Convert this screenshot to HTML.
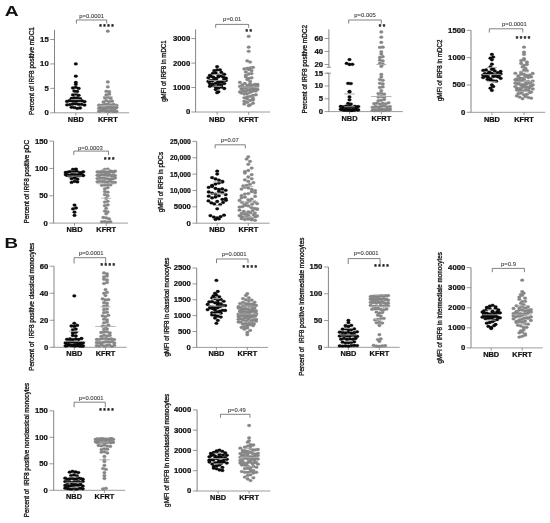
<!DOCTYPE html>
<html lang="en">
<head>
<meta charset="utf-8">
<title>IRF8 expression in dendritic cells and monocytes</title>
<style>
html,body{margin:0;padding:0;background:#fff;}
body{width:550px;height:523px;overflow:hidden;}
svg{display:block;font-family:"Liberation Sans",Arial,Helvetica,sans-serif;}
</style>
</head>
<body>
<svg width="550" height="523" viewBox="0 0 550 523">
<rect width="550" height="523" fill="#fff"/>
<!-- panel 1 -->
<path d="M54.5 29.9V112.8" stroke="#6e6e6e" stroke-width="0.85" fill="none"/>
<path d="M54.1 112.8H129.2" stroke="#9c9c9c" stroke-width="1.0" fill="none"/>
<path d="M50.2 112.80H54.5" stroke="#6e6e6e" stroke-width="0.7"/>
<text transform="translate(48.70,115.25) scale(1.1227536231884057,1)" font-size="6.9" font-weight="bold" text-anchor="end" fill="#111" stroke="#111" stroke-width="0.22">0</text>
<path d="M50.2 88.37H54.5" stroke="#6e6e6e" stroke-width="0.7"/>
<text transform="translate(48.70,90.82) scale(1.1227536231884057,1)" font-size="6.9" font-weight="bold" text-anchor="end" fill="#111" stroke="#111" stroke-width="0.22">5</text>
<path d="M50.2 63.93H54.5" stroke="#6e6e6e" stroke-width="0.7"/>
<text transform="translate(48.70,66.38) scale(1.1227536231884057,1)" font-size="6.9" font-weight="bold" text-anchor="end" fill="#111" stroke="#111" stroke-width="0.22">10</text>
<path d="M50.2 39.50H54.5" stroke="#6e6e6e" stroke-width="0.7"/>
<text transform="translate(48.70,41.95) scale(1.1227536231884057,1)" font-size="6.9" font-weight="bold" text-anchor="end" fill="#111" stroke="#111" stroke-width="0.22">15</text>
<path d="M75.8 112.8V115.5" stroke="#6e6e6e" stroke-width="0.7"/>
<text transform="translate(75.80,122.25) scale(1.1578125,1)" font-size="6.4" font-weight="bold" text-anchor="middle" fill="#111" stroke="#111" stroke-width="0.2">NBD</text>
<path d="M107.8 112.8V115.5" stroke="#6e6e6e" stroke-width="0.7"/>
<text transform="translate(107.80,122.25) scale(1.1578125,1)" font-size="6.4" font-weight="bold" text-anchor="middle" fill="#111" stroke="#111" stroke-width="0.2">KFRT</text>
<text transform="translate(33.60,115.10) rotate(-90)" font-size="6.4" textLength="88.0" lengthAdjust="spacingAndGlyphs" fill="#111" stroke="#111" stroke-width="0.3">Percent of IRF8 positive mDC1</text>
<path d="M76.4 23.6V20.0H106.7V23.6" stroke="#4d4d4d" stroke-width="0.7" fill="none"/>
<text transform="translate(91.70,17.75) scale(1.179,1)" font-size="5.0" font-weight="normal" text-anchor="middle" fill="#3c3c3c" stroke="#3c3c3c" stroke-width="0.08">p=0.0001</text>
<text x="107.35" y="29.15" font-size="6.4" font-weight="bold" letter-spacing="1.51" text-anchor="middle" fill="#1c1c1c" stroke="#1c1c1c" stroke-width="0.25">****</text>
<g fill="#0a0a0a" stroke="#0a0a0a" stroke-opacity="0.38" stroke-width="0.9"><ellipse cx="77.2" cy="108.4" rx="1.8" ry="1.38"/><ellipse cx="74.3" cy="107.6" rx="1.8" ry="1.38"/><ellipse cx="80.1" cy="108.0" rx="1.8" ry="1.38"/><ellipse cx="71.5" cy="107.3" rx="1.8" ry="1.38"/><ellipse cx="75.8" cy="103.8" rx="1.8" ry="1.38"/><ellipse cx="78.7" cy="104.4" rx="1.8" ry="1.38"/><ellipse cx="72.9" cy="104.0" rx="1.8" ry="1.38"/><ellipse cx="81.6" cy="104.3" rx="1.8" ry="1.38"/><ellipse cx="70.0" cy="104.6" rx="1.8" ry="1.38"/><ellipse cx="84.5" cy="105.1" rx="1.8" ry="1.38"/><ellipse cx="67.1" cy="104.9" rx="1.8" ry="1.38"/><ellipse cx="77.1" cy="101.1" rx="1.8" ry="1.38"/><ellipse cx="74.5" cy="101.0" rx="1.8" ry="1.38"/><ellipse cx="79.6" cy="100.6" rx="1.8" ry="1.38"/><ellipse cx="72.0" cy="100.8" rx="1.8" ry="1.38"/><ellipse cx="82.1" cy="100.9" rx="1.8" ry="1.38"/><ellipse cx="69.5" cy="100.7" rx="1.8" ry="1.38"/><ellipse cx="84.6" cy="101.7" rx="1.8" ry="1.38"/><ellipse cx="67.0" cy="101.4" rx="1.8" ry="1.38"/><ellipse cx="77.2" cy="97.8" rx="1.8" ry="1.38"/><ellipse cx="74.3" cy="98.0" rx="1.8" ry="1.38"/><ellipse cx="80.1" cy="98.7" rx="1.8" ry="1.38"/><ellipse cx="71.5" cy="98.5" rx="1.8" ry="1.38"/><ellipse cx="75.8" cy="94.0" rx="1.8" ry="1.38"/><ellipse cx="78.7" cy="95.3" rx="1.8" ry="1.38"/><ellipse cx="72.9" cy="94.9" rx="1.8" ry="1.38"/><ellipse cx="77.2" cy="91.5" rx="1.8" ry="1.38"/><ellipse cx="74.3" cy="91.1" rx="1.8" ry="1.38"/><ellipse cx="75.8" cy="87.3" rx="1.8" ry="1.38"/><ellipse cx="78.7" cy="88.4" rx="1.8" ry="1.38"/><ellipse cx="72.9" cy="88.0" rx="1.8" ry="1.38"/><ellipse cx="75.8" cy="84.4" rx="1.8" ry="1.38"/><ellipse cx="75.8" cy="82.5" rx="1.8" ry="1.38"/><ellipse cx="75.8" cy="76.2" rx="1.8" ry="1.38"/><ellipse cx="75.8" cy="63.9" rx="1.8" ry="1.38"/></g>
<path d="M70.8 99.61H80.8M73.2 93.25H78.4" stroke="#a2a2a2" stroke-width="0.9" fill="none"/>
<g fill="#868686" stroke="#868686" stroke-opacity="0.38" stroke-width="0.9"><ellipse cx="108.3" cy="111.4" rx="1.8" ry="1.38"/><ellipse cx="107.3" cy="110.8" rx="1.8" ry="1.38"/><ellipse cx="109.4" cy="110.9" rx="1.8" ry="1.38"/><ellipse cx="106.2" cy="110.9" rx="1.8" ry="1.38"/><ellipse cx="110.4" cy="111.0" rx="1.8" ry="1.38"/><ellipse cx="105.2" cy="111.1" rx="1.8" ry="1.38"/><ellipse cx="111.4" cy="110.7" rx="1.8" ry="1.38"/><ellipse cx="104.2" cy="110.7" rx="1.8" ry="1.38"/><ellipse cx="112.5" cy="111.1" rx="1.8" ry="1.38"/><ellipse cx="103.1" cy="110.5" rx="1.8" ry="1.38"/><ellipse cx="113.5" cy="111.5" rx="1.8" ry="1.38"/><ellipse cx="102.1" cy="110.4" rx="1.8" ry="1.38"/><ellipse cx="114.5" cy="110.6" rx="1.8" ry="1.38"/><ellipse cx="101.1" cy="110.6" rx="1.8" ry="1.38"/><ellipse cx="115.6" cy="111.5" rx="1.8" ry="1.38"/><ellipse cx="100.0" cy="111.3" rx="1.8" ry="1.38"/><ellipse cx="116.6" cy="111.3" rx="1.8" ry="1.38"/><ellipse cx="99.0" cy="111.2" rx="1.8" ry="1.38"/><ellipse cx="108.3" cy="107.2" rx="1.8" ry="1.38"/><ellipse cx="107.3" cy="107.2" rx="1.8" ry="1.38"/><ellipse cx="109.2" cy="107.3" rx="1.8" ry="1.38"/><ellipse cx="106.4" cy="107.8" rx="1.8" ry="1.38"/><ellipse cx="110.1" cy="107.7" rx="1.8" ry="1.38"/><ellipse cx="105.5" cy="108.6" rx="1.8" ry="1.38"/><ellipse cx="111.0" cy="107.6" rx="1.8" ry="1.38"/><ellipse cx="104.6" cy="108.0" rx="1.8" ry="1.38"/><ellipse cx="112.0" cy="107.9" rx="1.8" ry="1.38"/><ellipse cx="103.6" cy="108.1" rx="1.8" ry="1.38"/><ellipse cx="112.9" cy="107.5" rx="1.8" ry="1.38"/><ellipse cx="102.7" cy="108.5" rx="1.8" ry="1.38"/><ellipse cx="113.8" cy="108.1" rx="1.8" ry="1.38"/><ellipse cx="101.8" cy="108.3" rx="1.8" ry="1.38"/><ellipse cx="114.7" cy="108.2" rx="1.8" ry="1.38"/><ellipse cx="100.9" cy="108.4" rx="1.8" ry="1.38"/><ellipse cx="115.7" cy="107.8" rx="1.8" ry="1.38"/><ellipse cx="99.9" cy="107.4" rx="1.8" ry="1.38"/><ellipse cx="116.6" cy="107.5" rx="1.8" ry="1.38"/><ellipse cx="99.0" cy="108.4" rx="1.8" ry="1.38"/><ellipse cx="107.8" cy="104.1" rx="1.8" ry="1.38"/><ellipse cx="110.7" cy="104.9" rx="1.8" ry="1.38"/><ellipse cx="104.9" cy="104.4" rx="1.8" ry="1.38"/><ellipse cx="113.6" cy="104.5" rx="1.8" ry="1.38"/><ellipse cx="102.0" cy="105.1" rx="1.8" ry="1.38"/><ellipse cx="116.5" cy="105.3" rx="1.8" ry="1.38"/><ellipse cx="99.1" cy="105.2" rx="1.8" ry="1.38"/><ellipse cx="109.2" cy="101.7" rx="1.8" ry="1.38"/><ellipse cx="106.3" cy="100.7" rx="1.8" ry="1.38"/><ellipse cx="112.1" cy="101.2" rx="1.8" ry="1.38"/><ellipse cx="103.5" cy="102.0" rx="1.8" ry="1.38"/><ellipse cx="107.8" cy="97.3" rx="1.8" ry="1.38"/><ellipse cx="110.7" cy="98.4" rx="1.8" ry="1.38"/><ellipse cx="104.9" cy="97.9" rx="1.8" ry="1.38"/><ellipse cx="109.2" cy="94.2" rx="1.8" ry="1.38"/><ellipse cx="106.3" cy="94.9" rx="1.8" ry="1.38"/><ellipse cx="109.2" cy="91.7" rx="1.8" ry="1.38"/><ellipse cx="106.3" cy="91.3" rx="1.8" ry="1.38"/><ellipse cx="107.8" cy="86.9" rx="1.8" ry="1.38"/><ellipse cx="107.8" cy="82.0" rx="1.8" ry="1.38"/><ellipse cx="107.8" cy="31.2" rx="1.8" ry="1.38"/></g>
<path d="M98.3 105.71H117.3M102.9 96.67H112.7" stroke="#adadad" stroke-width="0.9" fill="none"/>
<!-- panel 2 -->
<path d="M195.6 29.4V112.0" stroke="#6e6e6e" stroke-width="0.85" fill="none"/>
<path d="M195.2 112.0H270.2" stroke="#9c9c9c" stroke-width="1.0" fill="none"/>
<path d="M191.29999999999998 112.00H195.6" stroke="#6e6e6e" stroke-width="0.7"/>
<text transform="translate(190.20,114.45) scale(1.1227536231884057,1)" font-size="6.9" font-weight="bold" text-anchor="end" fill="#111" stroke="#111" stroke-width="0.22">0</text>
<path d="M191.29999999999998 87.53H195.6" stroke="#6e6e6e" stroke-width="0.7"/>
<text transform="translate(190.20,89.98) scale(1.1227536231884057,1)" font-size="6.9" font-weight="bold" text-anchor="end" fill="#111" stroke="#111" stroke-width="0.22">1000</text>
<path d="M191.29999999999998 63.07H195.6" stroke="#6e6e6e" stroke-width="0.7"/>
<text transform="translate(190.20,65.52) scale(1.1227536231884057,1)" font-size="6.9" font-weight="bold" text-anchor="end" fill="#111" stroke="#111" stroke-width="0.22">2000</text>
<path d="M191.29999999999998 38.60H195.6" stroke="#6e6e6e" stroke-width="0.7"/>
<text transform="translate(190.20,41.05) scale(1.1227536231884057,1)" font-size="6.9" font-weight="bold" text-anchor="end" fill="#111" stroke="#111" stroke-width="0.22">3000</text>
<path d="M217.1 112.0V114.7" stroke="#6e6e6e" stroke-width="0.7"/>
<text transform="translate(217.10,121.55) scale(1.1578125,1)" font-size="6.4" font-weight="bold" text-anchor="middle" fill="#111" stroke="#111" stroke-width="0.2">NBD</text>
<path d="M248.7 112.0V114.7" stroke="#6e6e6e" stroke-width="0.7"/>
<text transform="translate(248.70,121.55) scale(1.1578125,1)" font-size="6.4" font-weight="bold" text-anchor="middle" fill="#111" stroke="#111" stroke-width="0.2">KFRT</text>
<text transform="translate(165.50,101.80) rotate(-90)" font-size="6.4" textLength="61.5" lengthAdjust="spacingAndGlyphs" fill="#111" stroke="#111" stroke-width="0.3">gMFI of IRF8 in mDC1</text>
<path d="M215.7 27.8V24.4H248.7V27.8" stroke="#4d4d4d" stroke-width="0.7" fill="none"/>
<text transform="translate(232.20,20.85) scale(1.179,1)" font-size="5.0" font-weight="normal" text-anchor="middle" fill="#3c3c3c" stroke="#3c3c3c" stroke-width="0.08">p=0.01</text>
<text x="249.55" y="33.65" font-size="6.4" font-weight="bold" letter-spacing="1.51" text-anchor="middle" fill="#1c1c1c" stroke="#1c1c1c" stroke-width="0.25">**</text>
<g fill="#0a0a0a" stroke="#0a0a0a" stroke-opacity="0.38" stroke-width="0.9"><ellipse cx="217.1" cy="92.7" rx="1.8" ry="1.38"/><ellipse cx="218.5" cy="91.8" rx="1.8" ry="1.38"/><ellipse cx="215.7" cy="89.5" rx="1.8" ry="1.38"/><ellipse cx="218.5" cy="88.1" rx="1.8" ry="1.38"/><ellipse cx="215.7" cy="86.9" rx="1.8" ry="1.38"/><ellipse cx="221.4" cy="87.1" rx="1.8" ry="1.38"/><ellipse cx="212.8" cy="85.7" rx="1.8" ry="1.38"/><ellipse cx="224.3" cy="88.5" rx="1.8" ry="1.38"/><ellipse cx="209.8" cy="86.3" rx="1.8" ry="1.38"/><ellipse cx="218.5" cy="84.8" rx="1.8" ry="1.38"/><ellipse cx="215.7" cy="83.3" rx="1.8" ry="1.38"/><ellipse cx="221.4" cy="84.8" rx="1.8" ry="1.38"/><ellipse cx="212.8" cy="84.1" rx="1.8" ry="1.38"/><ellipse cx="224.3" cy="83.6" rx="1.8" ry="1.38"/><ellipse cx="209.8" cy="83.7" rx="1.8" ry="1.38"/><ellipse cx="218.1" cy="82.2" rx="1.8" ry="1.38"/><ellipse cx="216.1" cy="79.7" rx="1.8" ry="1.38"/><ellipse cx="220.0" cy="82.2" rx="1.8" ry="1.38"/><ellipse cx="214.2" cy="79.5" rx="1.8" ry="1.38"/><ellipse cx="222.0" cy="81.8" rx="1.8" ry="1.38"/><ellipse cx="212.2" cy="80.9" rx="1.8" ry="1.38"/><ellipse cx="223.9" cy="80.0" rx="1.8" ry="1.38"/><ellipse cx="210.3" cy="80.7" rx="1.8" ry="1.38"/><ellipse cx="225.9" cy="80.5" rx="1.8" ry="1.38"/><ellipse cx="208.3" cy="81.5" rx="1.8" ry="1.38"/><ellipse cx="218.4" cy="76.9" rx="1.8" ry="1.38"/><ellipse cx="215.8" cy="78.5" rx="1.8" ry="1.38"/><ellipse cx="220.9" cy="75.9" rx="1.8" ry="1.38"/><ellipse cx="213.3" cy="77.2" rx="1.8" ry="1.38"/><ellipse cx="223.4" cy="77.3" rx="1.8" ry="1.38"/><ellipse cx="210.8" cy="76.4" rx="1.8" ry="1.38"/><ellipse cx="225.9" cy="78.2" rx="1.8" ry="1.38"/><ellipse cx="208.3" cy="77.8" rx="1.8" ry="1.38"/><ellipse cx="218.5" cy="75.2" rx="1.8" ry="1.38"/><ellipse cx="215.7" cy="73.0" rx="1.8" ry="1.38"/><ellipse cx="221.4" cy="72.4" rx="1.8" ry="1.38"/><ellipse cx="212.8" cy="73.5" rx="1.8" ry="1.38"/><ellipse cx="224.3" cy="74.3" rx="1.8" ry="1.38"/><ellipse cx="209.8" cy="75.3" rx="1.8" ry="1.38"/><ellipse cx="217.1" cy="69.9" rx="1.8" ry="1.38"/><ellipse cx="220.0" cy="69.9" rx="1.8" ry="1.38"/><ellipse cx="214.2" cy="70.7" rx="1.8" ry="1.38"/><ellipse cx="217.1" cy="66.7" rx="1.8" ry="1.38"/></g>
<path d="M208.1 80.44H226.1M212.4 86.31H221.8M212.4 74.57H221.8" stroke="#a2a2a2" stroke-width="0.9" fill="none"/>
<g fill="#868686" stroke="#868686" stroke-opacity="0.38" stroke-width="0.9"><ellipse cx="248.7" cy="105.7" rx="1.8" ry="1.38"/><ellipse cx="250.1" cy="104.9" rx="1.8" ry="1.38"/><ellipse cx="247.2" cy="102.4" rx="1.8" ry="1.38"/><ellipse cx="253.0" cy="103.3" rx="1.8" ry="1.38"/><ellipse cx="244.3" cy="104.0" rx="1.8" ry="1.38"/><ellipse cx="250.1" cy="100.5" rx="1.8" ry="1.38"/><ellipse cx="247.2" cy="99.1" rx="1.8" ry="1.38"/><ellipse cx="253.0" cy="100.0" rx="1.8" ry="1.38"/><ellipse cx="244.3" cy="101.3" rx="1.8" ry="1.38"/><ellipse cx="250.1" cy="96.4" rx="1.8" ry="1.38"/><ellipse cx="247.2" cy="96.9" rx="1.8" ry="1.38"/><ellipse cx="253.0" cy="98.5" rx="1.8" ry="1.38"/><ellipse cx="244.3" cy="97.8" rx="1.8" ry="1.38"/><ellipse cx="250.1" cy="92.4" rx="1.8" ry="1.38"/><ellipse cx="247.2" cy="93.7" rx="1.8" ry="1.38"/><ellipse cx="253.0" cy="95.5" rx="1.8" ry="1.38"/><ellipse cx="244.3" cy="94.1" rx="1.8" ry="1.38"/><ellipse cx="255.9" cy="94.8" rx="1.8" ry="1.38"/><ellipse cx="241.4" cy="93.0" rx="1.8" ry="1.38"/><ellipse cx="248.7" cy="89.9" rx="1.8" ry="1.38"/><ellipse cx="250.5" cy="89.7" rx="1.8" ry="1.38"/><ellipse cx="246.9" cy="90.5" rx="1.8" ry="1.38"/><ellipse cx="252.2" cy="91.4" rx="1.8" ry="1.38"/><ellipse cx="245.2" cy="91.6" rx="1.8" ry="1.38"/><ellipse cx="254.0" cy="90.2" rx="1.8" ry="1.38"/><ellipse cx="243.4" cy="90.9" rx="1.8" ry="1.38"/><ellipse cx="255.7" cy="91.1" rx="1.8" ry="1.38"/><ellipse cx="241.7" cy="89.2" rx="1.8" ry="1.38"/><ellipse cx="257.5" cy="89.5" rx="1.8" ry="1.38"/><ellipse cx="239.9" cy="92.0" rx="1.8" ry="1.38"/><ellipse cx="249.5" cy="86.6" rx="1.8" ry="1.38"/><ellipse cx="247.9" cy="86.8" rx="1.8" ry="1.38"/><ellipse cx="251.1" cy="87.1" rx="1.8" ry="1.38"/><ellipse cx="246.3" cy="87.6" rx="1.8" ry="1.38"/><ellipse cx="252.7" cy="88.5" rx="1.8" ry="1.38"/><ellipse cx="244.7" cy="88.0" rx="1.8" ry="1.38"/><ellipse cx="254.3" cy="88.2" rx="1.8" ry="1.38"/><ellipse cx="243.1" cy="87.5" rx="1.8" ry="1.38"/><ellipse cx="255.9" cy="85.7" rx="1.8" ry="1.38"/><ellipse cx="241.5" cy="88.8" rx="1.8" ry="1.38"/><ellipse cx="257.5" cy="86.0" rx="1.8" ry="1.38"/><ellipse cx="239.9" cy="86.4" rx="1.8" ry="1.38"/><ellipse cx="250.0" cy="83.9" rx="1.8" ry="1.38"/><ellipse cx="247.4" cy="85.5" rx="1.8" ry="1.38"/><ellipse cx="252.5" cy="85.2" rx="1.8" ry="1.38"/><ellipse cx="244.9" cy="83.5" rx="1.8" ry="1.38"/><ellipse cx="255.0" cy="84.4" rx="1.8" ry="1.38"/><ellipse cx="242.4" cy="84.9" rx="1.8" ry="1.38"/><ellipse cx="257.5" cy="84.5" rx="1.8" ry="1.38"/><ellipse cx="239.9" cy="82.4" rx="1.8" ry="1.38"/><ellipse cx="250.1" cy="81.4" rx="1.8" ry="1.38"/><ellipse cx="247.2" cy="79.6" rx="1.8" ry="1.38"/><ellipse cx="248.7" cy="78.5" rx="1.8" ry="1.38"/><ellipse cx="251.6" cy="77.8" rx="1.8" ry="1.38"/><ellipse cx="245.8" cy="76.9" rx="1.8" ry="1.38"/><ellipse cx="248.7" cy="74.0" rx="1.8" ry="1.38"/><ellipse cx="251.6" cy="73.6" rx="1.8" ry="1.38"/><ellipse cx="245.8" cy="75.3" rx="1.8" ry="1.38"/><ellipse cx="248.7" cy="69.6" rx="1.8" ry="1.38"/><ellipse cx="251.6" cy="70.7" rx="1.8" ry="1.38"/><ellipse cx="245.8" cy="72.0" rx="1.8" ry="1.38"/><ellipse cx="250.1" cy="68.0" rx="1.8" ry="1.38"/><ellipse cx="247.2" cy="68.3" rx="1.8" ry="1.38"/><ellipse cx="253.0" cy="67.4" rx="1.8" ry="1.38"/><ellipse cx="244.3" cy="69.0" rx="1.8" ry="1.38"/><ellipse cx="250.1" cy="62.1" rx="1.8" ry="1.38"/><ellipse cx="247.2" cy="60.9" rx="1.8" ry="1.38"/><ellipse cx="248.7" cy="51.3" rx="1.8" ry="1.38"/><ellipse cx="248.7" cy="47.2" rx="1.8" ry="1.38"/><ellipse cx="248.7" cy="36.4" rx="1.8" ry="1.38"/></g>
<path d="M238.4 87.17H259.0" stroke="#adadad" stroke-width="0.9" fill="none"/>
<!-- panel 3 -->
<path d="M328.9 29.3V67.3M328.9 73.2V111.6" stroke="#6e6e6e" stroke-width="0.85" fill="none"/>
<path d="M326.7 67.3H331.09999999999997M326.7 73.2H331.09999999999997" stroke="#6e6e6e" stroke-width="0.7" fill="none"/>
<path d="M328.5 111.6H402.9" stroke="#9c9c9c" stroke-width="1.0" fill="none"/>
<path d="M324.59999999999997 111.60H328.9" stroke="#6e6e6e" stroke-width="0.7"/>
<text transform="translate(323.00,114.05) scale(1.1227536231884057,1)" font-size="6.9" font-weight="bold" text-anchor="end" fill="#111" stroke="#111" stroke-width="0.22">0</text>
<path d="M324.59999999999997 98.80H328.9" stroke="#6e6e6e" stroke-width="0.7"/>
<text transform="translate(323.00,101.25) scale(1.1227536231884057,1)" font-size="6.9" font-weight="bold" text-anchor="end" fill="#111" stroke="#111" stroke-width="0.22">5</text>
<path d="M324.59999999999997 86.00H328.9" stroke="#6e6e6e" stroke-width="0.7"/>
<text transform="translate(323.00,88.45) scale(1.1227536231884057,1)" font-size="6.9" font-weight="bold" text-anchor="end" fill="#111" stroke="#111" stroke-width="0.22">10</text>
<path d="M324.59999999999997 73.20H328.9" stroke="#6e6e6e" stroke-width="0.7"/>
<text transform="translate(323.00,75.65) scale(1.1227536231884057,1)" font-size="6.9" font-weight="bold" text-anchor="end" fill="#111" stroke="#111" stroke-width="0.22">15</text>
<path d="M324.59999999999997 64.50H328.9" stroke="#6e6e6e" stroke-width="0.7"/>
<text transform="translate(323.00,66.95) scale(1.1227536231884057,1)" font-size="6.9" font-weight="bold" text-anchor="end" fill="#111" stroke="#111" stroke-width="0.22">20</text>
<path d="M324.59999999999997 51.50H328.9" stroke="#6e6e6e" stroke-width="0.7"/>
<text transform="translate(323.00,53.95) scale(1.1227536231884057,1)" font-size="6.9" font-weight="bold" text-anchor="end" fill="#111" stroke="#111" stroke-width="0.22">40</text>
<path d="M324.59999999999997 38.50H328.9" stroke="#6e6e6e" stroke-width="0.7"/>
<text transform="translate(323.00,40.95) scale(1.1227536231884057,1)" font-size="6.9" font-weight="bold" text-anchor="end" fill="#111" stroke="#111" stroke-width="0.22">60</text>
<path d="M349.5 111.6V114.3" stroke="#6e6e6e" stroke-width="0.7"/>
<text transform="translate(349.50,121.05) scale(1.1578125,1)" font-size="6.4" font-weight="bold" text-anchor="middle" fill="#111" stroke="#111" stroke-width="0.2">NBD</text>
<path d="M381.3 111.6V114.3" stroke="#6e6e6e" stroke-width="0.7"/>
<text transform="translate(381.30,121.05) scale(1.1578125,1)" font-size="6.4" font-weight="bold" text-anchor="middle" fill="#111" stroke="#111" stroke-width="0.2">KFRT</text>
<text transform="translate(307.20,113.50) rotate(-90)" font-size="6.4" textLength="88.6" lengthAdjust="spacingAndGlyphs" fill="#111" stroke="#111" stroke-width="0.3">Percent of IRF8 positive mDC2</text>
<path d="M348.7 23.6V20.0H381.3V23.6" stroke="#4d4d4d" stroke-width="0.7" fill="none"/>
<text transform="translate(365.00,17.15) scale(1.179,1)" font-size="5.0" font-weight="normal" text-anchor="middle" fill="#3c3c3c" stroke="#3c3c3c" stroke-width="0.08">p=0.005</text>
<text x="382.75" y="28.55" font-size="6.4" font-weight="bold" letter-spacing="1.51" text-anchor="middle" fill="#1c1c1c" stroke="#1c1c1c" stroke-width="0.25">**</text>
<g fill="#0a0a0a" stroke="#0a0a0a" stroke-opacity="0.38" stroke-width="0.9"><ellipse cx="349.5" cy="109.7" rx="1.8" ry="1.38"/><ellipse cx="350.6" cy="110.4" rx="1.8" ry="1.38"/><ellipse cx="348.4" cy="109.9" rx="1.8" ry="1.38"/><ellipse cx="351.7" cy="110.4" rx="1.8" ry="1.38"/><ellipse cx="347.3" cy="110.3" rx="1.8" ry="1.38"/><ellipse cx="352.8" cy="110.0" rx="1.8" ry="1.38"/><ellipse cx="346.2" cy="109.4" rx="1.8" ry="1.38"/><ellipse cx="353.9" cy="110.2" rx="1.8" ry="1.38"/><ellipse cx="345.1" cy="110.1" rx="1.8" ry="1.38"/><ellipse cx="355.0" cy="109.8" rx="1.8" ry="1.38"/><ellipse cx="344.0" cy="110.2" rx="1.8" ry="1.38"/><ellipse cx="356.1" cy="109.5" rx="1.8" ry="1.38"/><ellipse cx="342.9" cy="109.6" rx="1.8" ry="1.38"/><ellipse cx="357.2" cy="109.8" rx="1.8" ry="1.38"/><ellipse cx="341.8" cy="109.6" rx="1.8" ry="1.38"/><ellipse cx="358.3" cy="110.0" rx="1.8" ry="1.38"/><ellipse cx="340.7" cy="109.3" rx="1.8" ry="1.38"/><ellipse cx="349.5" cy="106.4" rx="1.8" ry="1.38"/><ellipse cx="351.3" cy="107.2" rx="1.8" ry="1.38"/><ellipse cx="347.7" cy="107.0" rx="1.8" ry="1.38"/><ellipse cx="353.0" cy="107.3" rx="1.8" ry="1.38"/><ellipse cx="346.0" cy="106.2" rx="1.8" ry="1.38"/><ellipse cx="354.8" cy="106.3" rx="1.8" ry="1.38"/><ellipse cx="344.2" cy="107.1" rx="1.8" ry="1.38"/><ellipse cx="356.5" cy="106.9" rx="1.8" ry="1.38"/><ellipse cx="342.5" cy="106.8" rx="1.8" ry="1.38"/><ellipse cx="358.3" cy="106.6" rx="1.8" ry="1.38"/><ellipse cx="340.7" cy="106.5" rx="1.8" ry="1.38"/><ellipse cx="350.9" cy="104.1" rx="1.8" ry="1.38"/><ellipse cx="348.1" cy="103.5" rx="1.8" ry="1.38"/><ellipse cx="349.5" cy="99.8" rx="1.8" ry="1.38"/><ellipse cx="349.5" cy="97.0" rx="1.8" ry="1.38"/><ellipse cx="349.5" cy="92.1" rx="1.8" ry="1.38"/><ellipse cx="349.5" cy="91.4" rx="1.8" ry="1.38"/><ellipse cx="350.9" cy="83.6" rx="1.8" ry="1.38"/><ellipse cx="348.1" cy="83.4" rx="1.8" ry="1.38"/><ellipse cx="349.5" cy="64.5" rx="1.8" ry="1.38"/><ellipse cx="352.4" cy="64.3" rx="1.8" ry="1.38"/><ellipse cx="346.6" cy="63.4" rx="1.8" ry="1.38"/><ellipse cx="349.5" cy="59.6" rx="1.8" ry="1.38"/></g>
<path d="M344.2 106.74H354.8M344.2 93.94H354.8" stroke="#a2a2a2" stroke-width="0.9" fill="none"/>
<g fill="#868686" stroke="#868686" stroke-opacity="0.38" stroke-width="0.9"><ellipse cx="381.7" cy="109.4" rx="1.8" ry="1.38"/><ellipse cx="380.9" cy="109.3" rx="1.8" ry="1.38"/><ellipse cx="382.6" cy="109.6" rx="1.8" ry="1.38"/><ellipse cx="380.0" cy="109.6" rx="1.8" ry="1.38"/><ellipse cx="383.4" cy="110.4" rx="1.8" ry="1.38"/><ellipse cx="379.2" cy="110.5" rx="1.8" ry="1.38"/><ellipse cx="384.2" cy="110.2" rx="1.8" ry="1.38"/><ellipse cx="378.4" cy="109.9" rx="1.8" ry="1.38"/><ellipse cx="385.1" cy="110.0" rx="1.8" ry="1.38"/><ellipse cx="377.5" cy="109.9" rx="1.8" ry="1.38"/><ellipse cx="385.9" cy="110.0" rx="1.8" ry="1.38"/><ellipse cx="376.7" cy="110.4" rx="1.8" ry="1.38"/><ellipse cx="386.7" cy="109.7" rx="1.8" ry="1.38"/><ellipse cx="375.9" cy="110.3" rx="1.8" ry="1.38"/><ellipse cx="387.6" cy="109.4" rx="1.8" ry="1.38"/><ellipse cx="375.0" cy="109.7" rx="1.8" ry="1.38"/><ellipse cx="388.4" cy="110.1" rx="1.8" ry="1.38"/><ellipse cx="374.2" cy="110.6" rx="1.8" ry="1.38"/><ellipse cx="389.3" cy="109.8" rx="1.8" ry="1.38"/><ellipse cx="373.3" cy="110.2" rx="1.8" ry="1.38"/><ellipse cx="390.1" cy="109.5" rx="1.8" ry="1.38"/><ellipse cx="372.5" cy="110.3" rx="1.8" ry="1.38"/><ellipse cx="381.3" cy="106.3" rx="1.8" ry="1.38"/><ellipse cx="384.2" cy="106.1" rx="1.8" ry="1.38"/><ellipse cx="378.4" cy="107.2" rx="1.8" ry="1.38"/><ellipse cx="387.1" cy="107.0" rx="1.8" ry="1.38"/><ellipse cx="375.5" cy="106.5" rx="1.8" ry="1.38"/><ellipse cx="390.0" cy="106.7" rx="1.8" ry="1.38"/><ellipse cx="372.6" cy="107.3" rx="1.8" ry="1.38"/><ellipse cx="382.8" cy="103.5" rx="1.8" ry="1.38"/><ellipse cx="379.9" cy="104.1" rx="1.8" ry="1.38"/><ellipse cx="385.7" cy="103.8" rx="1.8" ry="1.38"/><ellipse cx="376.9" cy="103.2" rx="1.8" ry="1.38"/><ellipse cx="388.6" cy="102.8" rx="1.8" ry="1.38"/><ellipse cx="374.1" cy="103.7" rx="1.8" ry="1.38"/><ellipse cx="381.3" cy="100.3" rx="1.8" ry="1.38"/><ellipse cx="384.2" cy="99.6" rx="1.8" ry="1.38"/><ellipse cx="378.4" cy="100.7" rx="1.8" ry="1.38"/><ellipse cx="381.3" cy="96.6" rx="1.8" ry="1.38"/><ellipse cx="384.2" cy="97.3" rx="1.8" ry="1.38"/><ellipse cx="378.4" cy="97.0" rx="1.8" ry="1.38"/><ellipse cx="381.3" cy="93.3" rx="1.8" ry="1.38"/><ellipse cx="384.2" cy="94.2" rx="1.8" ry="1.38"/><ellipse cx="378.4" cy="93.6" rx="1.8" ry="1.38"/><ellipse cx="381.3" cy="90.7" rx="1.8" ry="1.38"/><ellipse cx="382.8" cy="86.9" rx="1.8" ry="1.38"/><ellipse cx="379.9" cy="87.5" rx="1.8" ry="1.38"/><ellipse cx="382.8" cy="84.0" rx="1.8" ry="1.38"/><ellipse cx="379.9" cy="83.3" rx="1.8" ry="1.38"/><ellipse cx="382.8" cy="80.3" rx="1.8" ry="1.38"/><ellipse cx="379.9" cy="79.6" rx="1.8" ry="1.38"/><ellipse cx="381.3" cy="76.9" rx="1.8" ry="1.38"/><ellipse cx="381.3" cy="74.4" rx="1.8" ry="1.38"/><ellipse cx="381.3" cy="66.4" rx="1.8" ry="1.38"/><ellipse cx="382.8" cy="64.2" rx="1.8" ry="1.38"/><ellipse cx="379.9" cy="63.5" rx="1.8" ry="1.38"/><ellipse cx="382.8" cy="61.0" rx="1.8" ry="1.38"/><ellipse cx="379.9" cy="60.2" rx="1.8" ry="1.38"/><ellipse cx="382.8" cy="56.7" rx="1.8" ry="1.38"/><ellipse cx="379.9" cy="57.5" rx="1.8" ry="1.38"/><ellipse cx="381.3" cy="54.1" rx="1.8" ry="1.38"/><ellipse cx="381.3" cy="51.8" rx="1.8" ry="1.38"/><ellipse cx="382.8" cy="47.2" rx="1.8" ry="1.38"/><ellipse cx="379.9" cy="47.4" rx="1.8" ry="1.38"/><ellipse cx="381.3" cy="42.4" rx="1.8" ry="1.38"/><ellipse cx="381.3" cy="37.2" rx="1.8" ry="1.38"/><ellipse cx="381.3" cy="32.0" rx="1.8" ry="1.38"/></g>
<path d="M371.1 96.50H391.5M376.3 64.50H386.3" stroke="#adadad" stroke-width="0.9" fill="none"/>
<!-- panel 4 -->
<path d="M471.0 30.3V112.3" stroke="#6e6e6e" stroke-width="0.85" fill="none"/>
<path d="M470.6 112.3H545.3" stroke="#9c9c9c" stroke-width="1.0" fill="none"/>
<path d="M466.7 112.30H471.0" stroke="#6e6e6e" stroke-width="0.7"/>
<text transform="translate(465.30,114.75) scale(1.1227536231884057,1)" font-size="6.9" font-weight="bold" text-anchor="end" fill="#111" stroke="#111" stroke-width="0.22">0</text>
<path d="M466.7 84.97H471.0" stroke="#6e6e6e" stroke-width="0.7"/>
<text transform="translate(465.30,87.42) scale(1.1227536231884057,1)" font-size="6.9" font-weight="bold" text-anchor="end" fill="#111" stroke="#111" stroke-width="0.22">500</text>
<path d="M466.7 57.63H471.0" stroke="#6e6e6e" stroke-width="0.7"/>
<text transform="translate(465.30,60.08) scale(1.1227536231884057,1)" font-size="6.9" font-weight="bold" text-anchor="end" fill="#111" stroke="#111" stroke-width="0.22">1000</text>
<path d="M466.7 30.30H471.0" stroke="#6e6e6e" stroke-width="0.7"/>
<text transform="translate(465.30,32.75) scale(1.1227536231884057,1)" font-size="6.9" font-weight="bold" text-anchor="end" fill="#111" stroke="#111" stroke-width="0.22">1500</text>
<path d="M491.9 112.3V115.0" stroke="#6e6e6e" stroke-width="0.7"/>
<text transform="translate(491.90,121.65) scale(1.1578125,1)" font-size="6.4" font-weight="bold" text-anchor="middle" fill="#111" stroke="#111" stroke-width="0.2">NBD</text>
<path d="M524.0 112.3V115.0" stroke="#6e6e6e" stroke-width="0.7"/>
<text transform="translate(524.00,121.65) scale(1.1578125,1)" font-size="6.4" font-weight="bold" text-anchor="middle" fill="#111" stroke="#111" stroke-width="0.2">KFRT</text>
<text transform="translate(442.30,101.10) rotate(-90)" font-size="6.4" textLength="61.5" lengthAdjust="spacingAndGlyphs" fill="#111" stroke="#111" stroke-width="0.3">gMFI of IRF8 in mDC2</text>
<path d="M489.3 32.6V28.8H522.8V32.6" stroke="#4d4d4d" stroke-width="0.7" fill="none"/>
<text transform="translate(514.40,25.95) scale(1.179,1)" font-size="5.0" font-weight="normal" text-anchor="middle" fill="#3c3c3c" stroke="#3c3c3c" stroke-width="0.08">p=0.0001</text>
<text x="523.85" y="40.85" font-size="6.4" font-weight="bold" letter-spacing="1.51" text-anchor="middle" fill="#1c1c1c" stroke="#1c1c1c" stroke-width="0.25">****</text>
<g fill="#0a0a0a" stroke="#0a0a0a" stroke-opacity="0.38" stroke-width="0.9"><ellipse cx="493.3" cy="80.8" rx="1.8" ry="1.38"/><ellipse cx="490.4" cy="80.0" rx="1.8" ry="1.38"/><ellipse cx="496.2" cy="81.2" rx="1.8" ry="1.38"/><ellipse cx="487.5" cy="79.4" rx="1.8" ry="1.38"/><ellipse cx="493.2" cy="76.6" rx="1.8" ry="1.38"/><ellipse cx="490.6" cy="79.0" rx="1.8" ry="1.38"/><ellipse cx="495.7" cy="76.2" rx="1.8" ry="1.38"/><ellipse cx="488.1" cy="77.2" rx="1.8" ry="1.38"/><ellipse cx="498.2" cy="76.9" rx="1.8" ry="1.38"/><ellipse cx="485.6" cy="76.3" rx="1.8" ry="1.38"/><ellipse cx="500.7" cy="78.4" rx="1.8" ry="1.38"/><ellipse cx="483.1" cy="77.6" rx="1.8" ry="1.38"/><ellipse cx="491.9" cy="73.4" rx="1.8" ry="1.38"/><ellipse cx="493.7" cy="75.2" rx="1.8" ry="1.38"/><ellipse cx="490.1" cy="73.0" rx="1.8" ry="1.38"/><ellipse cx="495.4" cy="74.8" rx="1.8" ry="1.38"/><ellipse cx="488.4" cy="74.2" rx="1.8" ry="1.38"/><ellipse cx="497.2" cy="75.6" rx="1.8" ry="1.38"/><ellipse cx="486.6" cy="74.5" rx="1.8" ry="1.38"/><ellipse cx="498.9" cy="75.9" rx="1.8" ry="1.38"/><ellipse cx="484.9" cy="73.7" rx="1.8" ry="1.38"/><ellipse cx="500.7" cy="73.9" rx="1.8" ry="1.38"/><ellipse cx="483.1" cy="75.1" rx="1.8" ry="1.38"/><ellipse cx="491.9" cy="69.4" rx="1.8" ry="1.38"/><ellipse cx="494.8" cy="71.0" rx="1.8" ry="1.38"/><ellipse cx="489.0" cy="72.2" rx="1.8" ry="1.38"/><ellipse cx="497.7" cy="72.6" rx="1.8" ry="1.38"/><ellipse cx="486.1" cy="70.0" rx="1.8" ry="1.38"/><ellipse cx="500.6" cy="71.5" rx="1.8" ry="1.38"/><ellipse cx="483.2" cy="70.4" rx="1.8" ry="1.38"/><ellipse cx="493.3" cy="68.8" rx="1.8" ry="1.38"/><ellipse cx="490.4" cy="66.9" rx="1.8" ry="1.38"/><ellipse cx="491.9" cy="90.4" rx="1.8" ry="1.38"/><ellipse cx="493.3" cy="86.6" rx="1.8" ry="1.38"/><ellipse cx="490.4" cy="88.2" rx="1.8" ry="1.38"/><ellipse cx="491.9" cy="85.0" rx="1.8" ry="1.38"/><ellipse cx="491.9" cy="64.2" rx="1.8" ry="1.38"/><ellipse cx="491.9" cy="59.8" rx="1.8" ry="1.38"/><ellipse cx="493.3" cy="57.1" rx="1.8" ry="1.38"/><ellipse cx="490.4" cy="58.2" rx="1.8" ry="1.38"/><ellipse cx="491.9" cy="54.4" rx="1.8" ry="1.38"/></g>
<path d="M482.4 74.58H501.4M487.0 81.69H496.8M487.0 67.47H496.8" stroke="#a2a2a2" stroke-width="0.9" fill="none"/>
<g fill="#868686" stroke="#868686" stroke-opacity="0.38" stroke-width="0.9"><ellipse cx="525.5" cy="96.5" rx="1.8" ry="1.38"/><ellipse cx="522.5" cy="98.7" rx="1.8" ry="1.38"/><ellipse cx="528.4" cy="97.6" rx="1.8" ry="1.38"/><ellipse cx="519.6" cy="97.1" rx="1.8" ry="1.38"/><ellipse cx="531.2" cy="98.2" rx="1.8" ry="1.38"/><ellipse cx="516.8" cy="95.9" rx="1.8" ry="1.38"/><ellipse cx="524.0" cy="94.9" rx="1.8" ry="1.38"/><ellipse cx="526.9" cy="94.3" rx="1.8" ry="1.38"/><ellipse cx="521.1" cy="93.2" rx="1.8" ry="1.38"/><ellipse cx="529.8" cy="92.5" rx="1.8" ry="1.38"/><ellipse cx="518.2" cy="93.7" rx="1.8" ry="1.38"/><ellipse cx="525.5" cy="89.7" rx="1.8" ry="1.38"/><ellipse cx="522.5" cy="91.4" rx="1.8" ry="1.38"/><ellipse cx="528.4" cy="90.3" rx="1.8" ry="1.38"/><ellipse cx="519.6" cy="90.9" rx="1.8" ry="1.38"/><ellipse cx="531.2" cy="92.1" rx="1.8" ry="1.38"/><ellipse cx="516.8" cy="90.0" rx="1.8" ry="1.38"/><ellipse cx="524.0" cy="86.3" rx="1.8" ry="1.38"/><ellipse cx="525.8" cy="86.9" rx="1.8" ry="1.38"/><ellipse cx="522.2" cy="87.6" rx="1.8" ry="1.38"/><ellipse cx="527.5" cy="87.2" rx="1.8" ry="1.38"/><ellipse cx="520.5" cy="89.2" rx="1.8" ry="1.38"/><ellipse cx="529.3" cy="88.1" rx="1.8" ry="1.38"/><ellipse cx="518.7" cy="88.6" rx="1.8" ry="1.38"/><ellipse cx="531.0" cy="86.0" rx="1.8" ry="1.38"/><ellipse cx="517.0" cy="88.3" rx="1.8" ry="1.38"/><ellipse cx="532.8" cy="89.0" rx="1.8" ry="1.38"/><ellipse cx="515.2" cy="86.6" rx="1.8" ry="1.38"/><ellipse cx="525.0" cy="84.3" rx="1.8" ry="1.38"/><ellipse cx="523.0" cy="84.7" rx="1.8" ry="1.38"/><ellipse cx="526.9" cy="83.7" rx="1.8" ry="1.38"/><ellipse cx="521.1" cy="85.3" rx="1.8" ry="1.38"/><ellipse cx="528.9" cy="82.8" rx="1.8" ry="1.38"/><ellipse cx="519.1" cy="83.5" rx="1.8" ry="1.38"/><ellipse cx="530.8" cy="85.7" rx="1.8" ry="1.38"/><ellipse cx="517.2" cy="84.1" rx="1.8" ry="1.38"/><ellipse cx="532.8" cy="85.0" rx="1.8" ry="1.38"/><ellipse cx="515.2" cy="83.1" rx="1.8" ry="1.38"/><ellipse cx="524.0" cy="79.3" rx="1.8" ry="1.38"/><ellipse cx="526.2" cy="82.0" rx="1.8" ry="1.38"/><ellipse cx="521.8" cy="80.8" rx="1.8" ry="1.38"/><ellipse cx="528.4" cy="81.7" rx="1.8" ry="1.38"/><ellipse cx="519.6" cy="80.4" rx="1.8" ry="1.38"/><ellipse cx="530.6" cy="82.4" rx="1.8" ry="1.38"/><ellipse cx="517.4" cy="81.4" rx="1.8" ry="1.38"/><ellipse cx="532.8" cy="81.1" rx="1.8" ry="1.38"/><ellipse cx="515.2" cy="79.8" rx="1.8" ry="1.38"/><ellipse cx="525.5" cy="76.6" rx="1.8" ry="1.38"/><ellipse cx="522.5" cy="78.4" rx="1.8" ry="1.38"/><ellipse cx="528.4" cy="77.5" rx="1.8" ry="1.38"/><ellipse cx="519.6" cy="78.0" rx="1.8" ry="1.38"/><ellipse cx="531.2" cy="76.9" rx="1.8" ry="1.38"/><ellipse cx="516.8" cy="79.0" rx="1.8" ry="1.38"/><ellipse cx="524.0" cy="74.5" rx="1.8" ry="1.38"/><ellipse cx="526.9" cy="75.5" rx="1.8" ry="1.38"/><ellipse cx="521.1" cy="74.2" rx="1.8" ry="1.38"/><ellipse cx="529.8" cy="75.1" rx="1.8" ry="1.38"/><ellipse cx="518.2" cy="76.0" rx="1.8" ry="1.38"/><ellipse cx="532.7" cy="73.5" rx="1.8" ry="1.38"/><ellipse cx="515.3" cy="73.3" rx="1.8" ry="1.38"/><ellipse cx="524.0" cy="70.2" rx="1.8" ry="1.38"/><ellipse cx="526.9" cy="70.7" rx="1.8" ry="1.38"/><ellipse cx="521.1" cy="72.4" rx="1.8" ry="1.38"/><ellipse cx="525.5" cy="68.4" rx="1.8" ry="1.38"/><ellipse cx="522.5" cy="66.9" rx="1.8" ry="1.38"/><ellipse cx="524.0" cy="65.5" rx="1.8" ry="1.38"/><ellipse cx="526.9" cy="64.5" rx="1.8" ry="1.38"/><ellipse cx="521.1" cy="63.5" rx="1.8" ry="1.38"/><ellipse cx="524.0" cy="59.9" rx="1.8" ry="1.38"/><ellipse cx="526.9" cy="62.2" rx="1.8" ry="1.38"/><ellipse cx="521.1" cy="60.7" rx="1.8" ry="1.38"/><ellipse cx="524.0" cy="58.7" rx="1.8" ry="1.38"/><ellipse cx="524.0" cy="54.4" rx="1.8" ry="1.38"/><ellipse cx="524.0" cy="52.2" rx="1.8" ry="1.38"/><ellipse cx="524.0" cy="47.2" rx="1.8" ry="1.38"/></g>
<path d="M514.5 81.69H533.5M519.1 91.53H528.9M519.1 71.85H528.9" stroke="#adadad" stroke-width="0.9" fill="none"/>
<!-- panel 5 -->
<path d="M53.6 141.1V223.1" stroke="#6e6e6e" stroke-width="0.85" fill="none"/>
<path d="M53.2 223.1H128.1" stroke="#9c9c9c" stroke-width="1.0" fill="none"/>
<path d="M49.300000000000004 223.10H53.6" stroke="#6e6e6e" stroke-width="0.7"/>
<text transform="translate(47.80,225.55) scale(1.1227536231884057,1)" font-size="6.9" font-weight="bold" text-anchor="end" fill="#111" stroke="#111" stroke-width="0.22">0</text>
<path d="M49.300000000000004 195.77H53.6" stroke="#6e6e6e" stroke-width="0.7"/>
<text transform="translate(47.80,198.22) scale(1.1227536231884057,1)" font-size="6.9" font-weight="bold" text-anchor="end" fill="#111" stroke="#111" stroke-width="0.22">50</text>
<path d="M49.300000000000004 168.43H53.6" stroke="#6e6e6e" stroke-width="0.7"/>
<text transform="translate(47.80,170.88) scale(1.1227536231884057,1)" font-size="6.9" font-weight="bold" text-anchor="end" fill="#111" stroke="#111" stroke-width="0.22">100</text>
<path d="M49.300000000000004 141.10H53.6" stroke="#6e6e6e" stroke-width="0.7"/>
<text transform="translate(47.80,143.55) scale(1.1227536231884057,1)" font-size="6.9" font-weight="bold" text-anchor="end" fill="#111" stroke="#111" stroke-width="0.22">150</text>
<path d="M74.5 223.1V225.79999999999998" stroke="#6e6e6e" stroke-width="0.7"/>
<text transform="translate(74.50,232.35) scale(1.1578125,1)" font-size="6.4" font-weight="bold" text-anchor="middle" fill="#111" stroke="#111" stroke-width="0.2">NBD</text>
<path d="M106.2 223.1V225.79999999999998" stroke="#6e6e6e" stroke-width="0.7"/>
<text transform="translate(106.20,232.35) scale(1.1578125,1)" font-size="6.4" font-weight="bold" text-anchor="middle" fill="#111" stroke="#111" stroke-width="0.2">KFRT</text>
<text transform="translate(29.20,223.40) rotate(-90)" font-size="6.4" textLength="83.5" lengthAdjust="spacingAndGlyphs" fill="#111" stroke="#111" stroke-width="0.3">Percent of IRF8 positive pDC</text>
<path d="M73.8 154.9V151.1H108.5V154.9" stroke="#4d4d4d" stroke-width="0.7" fill="none"/>
<text transform="translate(90.40,149.55) scale(1.179,1)" font-size="5.0" font-weight="normal" text-anchor="middle" fill="#3c3c3c" stroke="#3c3c3c" stroke-width="0.08">p=0.0003</text>
<text x="110.05" y="161.65" font-size="6.4" font-weight="bold" letter-spacing="1.51" text-anchor="middle" fill="#1c1c1c" stroke="#1c1c1c" stroke-width="0.25">***</text>
<g fill="#0a0a0a" stroke="#0a0a0a" stroke-opacity="0.38" stroke-width="0.9"><ellipse cx="74.5" cy="172.0" rx="1.8" ry="1.38"/><ellipse cx="76.7" cy="171.4" rx="1.8" ry="1.38"/><ellipse cx="72.3" cy="172.4" rx="1.8" ry="1.38"/><ellipse cx="78.9" cy="172.6" rx="1.8" ry="1.38"/><ellipse cx="70.1" cy="171.6" rx="1.8" ry="1.38"/><ellipse cx="81.1" cy="172.7" rx="1.8" ry="1.38"/><ellipse cx="67.9" cy="172.2" rx="1.8" ry="1.38"/><ellipse cx="83.3" cy="171.8" rx="1.8" ry="1.38"/><ellipse cx="65.7" cy="172.5" rx="1.8" ry="1.38"/><ellipse cx="76.0" cy="169.1" rx="1.8" ry="1.38"/><ellipse cx="73.0" cy="169.3" rx="1.8" ry="1.38"/><ellipse cx="75.1" cy="174.8" rx="1.8" ry="1.38"/><ellipse cx="73.9" cy="174.8" rx="1.8" ry="1.38"/><ellipse cx="76.3" cy="176.0" rx="1.8" ry="1.38"/><ellipse cx="72.7" cy="175.1" rx="1.8" ry="1.38"/><ellipse cx="77.4" cy="174.9" rx="1.8" ry="1.38"/><ellipse cx="71.6" cy="174.6" rx="1.8" ry="1.38"/><ellipse cx="78.6" cy="175.7" rx="1.8" ry="1.38"/><ellipse cx="70.4" cy="175.5" rx="1.8" ry="1.38"/><ellipse cx="79.8" cy="175.7" rx="1.8" ry="1.38"/><ellipse cx="69.2" cy="175.9" rx="1.8" ry="1.38"/><ellipse cx="81.0" cy="175.2" rx="1.8" ry="1.38"/><ellipse cx="68.0" cy="175.4" rx="1.8" ry="1.38"/><ellipse cx="82.1" cy="175.0" rx="1.8" ry="1.38"/><ellipse cx="66.9" cy="175.3" rx="1.8" ry="1.38"/><ellipse cx="83.3" cy="175.6" rx="1.8" ry="1.38"/><ellipse cx="65.7" cy="174.7" rx="1.8" ry="1.38"/><ellipse cx="74.5" cy="181.4" rx="1.8" ry="1.38"/><ellipse cx="77.4" cy="181.9" rx="1.8" ry="1.38"/><ellipse cx="71.6" cy="182.4" rx="1.8" ry="1.38"/><ellipse cx="74.5" cy="178.0" rx="1.8" ry="1.38"/><ellipse cx="77.4" cy="179.2" rx="1.8" ry="1.38"/><ellipse cx="71.6" cy="178.7" rx="1.8" ry="1.38"/><ellipse cx="74.5" cy="215.4" rx="1.8" ry="1.38"/><ellipse cx="74.5" cy="212.2" rx="1.8" ry="1.38"/><ellipse cx="76.0" cy="208.0" rx="1.8" ry="1.38"/><ellipse cx="73.0" cy="208.9" rx="1.8" ry="1.38"/><ellipse cx="74.5" cy="205.1" rx="1.8" ry="1.38"/></g>
<path d="M67.0 176.09H82.0M70.6 172.81H78.4" stroke="#a2a2a2" stroke-width="0.9" fill="none"/>
<g fill="#868686" stroke="#868686" stroke-opacity="0.38" stroke-width="0.9"><ellipse cx="106.2" cy="175.1" rx="1.8" ry="1.38"/><ellipse cx="108.0" cy="175.4" rx="1.8" ry="1.38"/><ellipse cx="104.4" cy="175.1" rx="1.8" ry="1.38"/><ellipse cx="109.7" cy="174.6" rx="1.8" ry="1.38"/><ellipse cx="102.7" cy="174.9" rx="1.8" ry="1.38"/><ellipse cx="111.5" cy="176.0" rx="1.8" ry="1.38"/><ellipse cx="100.9" cy="174.7" rx="1.8" ry="1.38"/><ellipse cx="113.2" cy="175.7" rx="1.8" ry="1.38"/><ellipse cx="99.2" cy="175.8" rx="1.8" ry="1.38"/><ellipse cx="115.0" cy="175.6" rx="1.8" ry="1.38"/><ellipse cx="97.4" cy="175.3" rx="1.8" ry="1.38"/><ellipse cx="107.0" cy="172.5" rx="1.8" ry="1.38"/><ellipse cx="105.4" cy="172.7" rx="1.8" ry="1.38"/><ellipse cx="108.6" cy="172.3" rx="1.8" ry="1.38"/><ellipse cx="103.8" cy="171.6" rx="1.8" ry="1.38"/><ellipse cx="110.2" cy="171.4" rx="1.8" ry="1.38"/><ellipse cx="102.2" cy="171.9" rx="1.8" ry="1.38"/><ellipse cx="111.8" cy="171.5" rx="1.8" ry="1.38"/><ellipse cx="100.6" cy="171.8" rx="1.8" ry="1.38"/><ellipse cx="113.4" cy="172.4" rx="1.8" ry="1.38"/><ellipse cx="99.0" cy="172.1" rx="1.8" ry="1.38"/><ellipse cx="115.0" cy="171.2" rx="1.8" ry="1.38"/><ellipse cx="97.4" cy="172.0" rx="1.8" ry="1.38"/><ellipse cx="107.7" cy="169.1" rx="1.8" ry="1.38"/><ellipse cx="104.8" cy="169.3" rx="1.8" ry="1.38"/><ellipse cx="107.5" cy="182.1" rx="1.8" ry="1.38"/><ellipse cx="104.9" cy="181.7" rx="1.8" ry="1.38"/><ellipse cx="110.0" cy="181.1" rx="1.8" ry="1.38"/><ellipse cx="102.4" cy="181.5" rx="1.8" ry="1.38"/><ellipse cx="112.5" cy="182.5" rx="1.8" ry="1.38"/><ellipse cx="99.9" cy="181.3" rx="1.8" ry="1.38"/><ellipse cx="115.0" cy="182.4" rx="1.8" ry="1.38"/><ellipse cx="97.4" cy="181.8" rx="1.8" ry="1.38"/><ellipse cx="107.5" cy="178.8" rx="1.8" ry="1.38"/><ellipse cx="104.9" cy="178.5" rx="1.8" ry="1.38"/><ellipse cx="110.0" cy="179.1" rx="1.8" ry="1.38"/><ellipse cx="102.4" cy="178.2" rx="1.8" ry="1.38"/><ellipse cx="112.5" cy="179.0" rx="1.8" ry="1.38"/><ellipse cx="99.9" cy="178.3" rx="1.8" ry="1.38"/><ellipse cx="115.0" cy="178.0" rx="1.8" ry="1.38"/><ellipse cx="97.4" cy="178.6" rx="1.8" ry="1.38"/><ellipse cx="107.7" cy="184.7" rx="1.8" ry="1.38"/><ellipse cx="104.8" cy="185.1" rx="1.8" ry="1.38"/><ellipse cx="110.5" cy="184.9" rx="1.8" ry="1.38"/><ellipse cx="101.9" cy="185.4" rx="1.8" ry="1.38"/><ellipse cx="107.7" cy="201.3" rx="1.8" ry="1.38"/><ellipse cx="104.8" cy="202.1" rx="1.8" ry="1.38"/><ellipse cx="106.2" cy="198.4" rx="1.8" ry="1.38"/><ellipse cx="107.7" cy="195.7" rx="1.8" ry="1.38"/><ellipse cx="104.8" cy="194.7" rx="1.8" ry="1.38"/><ellipse cx="107.7" cy="192.2" rx="1.8" ry="1.38"/><ellipse cx="104.8" cy="191.6" rx="1.8" ry="1.38"/><ellipse cx="107.7" cy="187.7" rx="1.8" ry="1.38"/><ellipse cx="104.8" cy="188.8" rx="1.8" ry="1.38"/><ellipse cx="106.2" cy="217.9" rx="1.8" ry="1.38"/><ellipse cx="109.1" cy="218.9" rx="1.8" ry="1.38"/><ellipse cx="103.3" cy="217.5" rx="1.8" ry="1.38"/><ellipse cx="106.2" cy="213.8" rx="1.8" ry="1.38"/><ellipse cx="107.7" cy="212.0" rx="1.8" ry="1.38"/><ellipse cx="104.8" cy="211.1" rx="1.8" ry="1.38"/><ellipse cx="106.2" cy="208.4" rx="1.8" ry="1.38"/><ellipse cx="107.7" cy="204.9" rx="1.8" ry="1.38"/><ellipse cx="104.8" cy="205.7" rx="1.8" ry="1.38"/><ellipse cx="107.7" cy="222.1" rx="1.8" ry="1.38"/><ellipse cx="104.8" cy="221.7" rx="1.8" ry="1.38"/><ellipse cx="110.5" cy="221.8" rx="1.8" ry="1.38"/><ellipse cx="101.9" cy="221.9" rx="1.8" ry="1.38"/></g>
<path d="M96.7 183.74H115.7M101.3 198.23H111.1M101.3 169.53H111.1" stroke="#adadad" stroke-width="0.9" fill="none"/>
<!-- panel 6 -->
<path d="M196.7 141.4V223.2" stroke="#6e6e6e" stroke-width="0.85" fill="none"/>
<path d="M196.29999999999998 223.2H269.6" stroke="#9c9c9c" stroke-width="1.0" fill="none"/>
<path d="M192.39999999999998 223.20H196.7" stroke="#6e6e6e" stroke-width="0.7"/>
<text transform="translate(190.90,225.65) scale(1.1227536231884057,1)" font-size="6.9" font-weight="bold" text-anchor="end" fill="#111" stroke="#111" stroke-width="0.22">0</text>
<path d="M192.39999999999998 206.84H196.7" stroke="#6e6e6e" stroke-width="0.7"/>
<text transform="translate(190.90,209.29) scale(1.1227536231884057,1)" font-size="6.9" font-weight="bold" text-anchor="end" fill="#111" stroke="#111" stroke-width="0.22">5000</text>
<path d="M192.39999999999998 190.48H196.7" stroke="#6e6e6e" stroke-width="0.7"/>
<text transform="translate(190.90,192.93) scale(0.9989855072463766,1)" font-size="6.9" font-weight="bold" text-anchor="end" fill="#111" stroke="#111" stroke-width="0.22">10,000</text>
<path d="M192.39999999999998 174.12H196.7" stroke="#6e6e6e" stroke-width="0.7"/>
<text transform="translate(190.90,176.57) scale(0.9989855072463766,1)" font-size="6.9" font-weight="bold" text-anchor="end" fill="#111" stroke="#111" stroke-width="0.22">15,000</text>
<path d="M192.39999999999998 157.76H196.7" stroke="#6e6e6e" stroke-width="0.7"/>
<text transform="translate(190.90,160.21) scale(0.9989855072463766,1)" font-size="6.9" font-weight="bold" text-anchor="end" fill="#111" stroke="#111" stroke-width="0.22">20,000</text>
<path d="M192.39999999999998 141.40H196.7" stroke="#6e6e6e" stroke-width="0.7"/>
<text transform="translate(190.90,143.85) scale(0.9989855072463766,1)" font-size="6.9" font-weight="bold" text-anchor="end" fill="#111" stroke="#111" stroke-width="0.22">25,000</text>
<path d="M217.2 223.2V225.89999999999998" stroke="#6e6e6e" stroke-width="0.7"/>
<text transform="translate(217.20,232.35) scale(1.1578125,1)" font-size="6.4" font-weight="bold" text-anchor="middle" fill="#111" stroke="#111" stroke-width="0.2">NBD</text>
<path d="M248.3 223.2V225.89999999999998" stroke="#6e6e6e" stroke-width="0.7"/>
<text transform="translate(248.30,232.35) scale(1.1578125,1)" font-size="6.4" font-weight="bold" text-anchor="middle" fill="#111" stroke="#111" stroke-width="0.2">KFRT</text>
<text transform="translate(162.80,212.30) rotate(-90)" font-size="6.4" textLength="60.3" lengthAdjust="spacingAndGlyphs" fill="#111" stroke="#111" stroke-width="0.3">gMFI of IRF8 in pDCs</text>
<path d="M215.1 148.3V144.8H245.3V148.3" stroke="#4d4d4d" stroke-width="0.7" fill="none"/>
<text transform="translate(229.80,142.05) scale(1.179,1)" font-size="5.0" font-weight="normal" text-anchor="middle" fill="#3c3c3c" stroke="#3c3c3c" stroke-width="0.08">p=0.07</text>
<g fill="#0a0a0a" stroke="#0a0a0a" stroke-opacity="0.38" stroke-width="0.9"><ellipse cx="218.9" cy="218.9" rx="1.8" ry="1.38"/><ellipse cx="215.5" cy="219.4" rx="1.8" ry="1.38"/><ellipse cx="217.2" cy="217.9" rx="1.8" ry="1.38"/><ellipse cx="220.6" cy="216.7" rx="1.8" ry="1.38"/><ellipse cx="213.8" cy="217.1" rx="1.8" ry="1.38"/><ellipse cx="224.0" cy="215.2" rx="1.8" ry="1.38"/><ellipse cx="210.4" cy="215.7" rx="1.8" ry="1.38"/><ellipse cx="217.2" cy="208.8" rx="1.8" ry="1.38"/><ellipse cx="217.2" cy="201.5" rx="1.8" ry="1.38"/><ellipse cx="220.1" cy="204.7" rx="1.8" ry="1.38"/><ellipse cx="214.3" cy="203.9" rx="1.8" ry="1.38"/><ellipse cx="223.1" cy="202.5" rx="1.8" ry="1.38"/><ellipse cx="211.3" cy="202.9" rx="1.8" ry="1.38"/><ellipse cx="226.0" cy="200.3" rx="1.8" ry="1.38"/><ellipse cx="208.4" cy="200.9" rx="1.8" ry="1.38"/><ellipse cx="218.9" cy="195.8" rx="1.8" ry="1.38"/><ellipse cx="215.5" cy="197.0" rx="1.8" ry="1.38"/><ellipse cx="222.3" cy="199.4" rx="1.8" ry="1.38"/><ellipse cx="212.1" cy="197.9" rx="1.8" ry="1.38"/><ellipse cx="225.7" cy="198.7" rx="1.8" ry="1.38"/><ellipse cx="208.7" cy="196.2" rx="1.8" ry="1.38"/><ellipse cx="218.9" cy="191.4" rx="1.8" ry="1.38"/><ellipse cx="215.5" cy="194.1" rx="1.8" ry="1.38"/><ellipse cx="222.3" cy="192.6" rx="1.8" ry="1.38"/><ellipse cx="212.1" cy="193.2" rx="1.8" ry="1.38"/><ellipse cx="225.7" cy="194.7" rx="1.8" ry="1.38"/><ellipse cx="208.7" cy="192.0" rx="1.8" ry="1.38"/><ellipse cx="218.9" cy="189.5" rx="1.8" ry="1.38"/><ellipse cx="215.5" cy="188.5" rx="1.8" ry="1.38"/><ellipse cx="222.3" cy="189.0" rx="1.8" ry="1.38"/><ellipse cx="212.1" cy="186.5" rx="1.8" ry="1.38"/><ellipse cx="225.7" cy="190.3" rx="1.8" ry="1.38"/><ellipse cx="208.7" cy="187.4" rx="1.8" ry="1.38"/><ellipse cx="218.9" cy="183.0" rx="1.8" ry="1.38"/><ellipse cx="215.5" cy="184.1" rx="1.8" ry="1.38"/><ellipse cx="222.3" cy="182.1" rx="1.8" ry="1.38"/><ellipse cx="212.1" cy="185.3" rx="1.8" ry="1.38"/><ellipse cx="218.9" cy="180.1" rx="1.8" ry="1.38"/><ellipse cx="215.5" cy="179.0" rx="1.8" ry="1.38"/><ellipse cx="222.3" cy="181.3" rx="1.8" ry="1.38"/><ellipse cx="212.1" cy="177.7" rx="1.8" ry="1.38"/><ellipse cx="217.2" cy="174.1" rx="1.8" ry="1.38"/><ellipse cx="217.2" cy="171.2" rx="1.8" ry="1.38"/></g>
<path d="M208.7 193.75H225.7M212.8 205.53H221.6M212.8 181.97H221.6" stroke="#a2a2a2" stroke-width="0.9" fill="none"/>
<g fill="#868686" stroke="#868686" stroke-opacity="0.38" stroke-width="0.9"><ellipse cx="248.3" cy="219.2" rx="1.8" ry="1.38"/><ellipse cx="251.7" cy="219.9" rx="1.8" ry="1.38"/><ellipse cx="244.9" cy="219.6" rx="1.8" ry="1.38"/><ellipse cx="255.1" cy="220.3" rx="1.8" ry="1.38"/><ellipse cx="241.5" cy="218.7" rx="1.8" ry="1.38"/><ellipse cx="248.3" cy="215.3" rx="1.8" ry="1.38"/><ellipse cx="250.1" cy="217.9" rx="1.8" ry="1.38"/><ellipse cx="246.5" cy="217.3" rx="1.8" ry="1.38"/><ellipse cx="251.8" cy="218.3" rx="1.8" ry="1.38"/><ellipse cx="244.8" cy="214.3" rx="1.8" ry="1.38"/><ellipse cx="253.6" cy="214.8" rx="1.8" ry="1.38"/><ellipse cx="243.0" cy="217.5" rx="1.8" ry="1.38"/><ellipse cx="255.3" cy="216.8" rx="1.8" ry="1.38"/><ellipse cx="241.3" cy="216.4" rx="1.8" ry="1.38"/><ellipse cx="257.1" cy="216.0" rx="1.8" ry="1.38"/><ellipse cx="239.5" cy="215.7" rx="1.8" ry="1.38"/><ellipse cx="248.3" cy="212.0" rx="1.8" ry="1.38"/><ellipse cx="250.5" cy="212.7" rx="1.8" ry="1.38"/><ellipse cx="246.1" cy="213.9" rx="1.8" ry="1.38"/><ellipse cx="252.7" cy="210.6" rx="1.8" ry="1.38"/><ellipse cx="243.9" cy="211.5" rx="1.8" ry="1.38"/><ellipse cx="254.9" cy="213.1" rx="1.8" ry="1.38"/><ellipse cx="241.7" cy="213.5" rx="1.8" ry="1.38"/><ellipse cx="257.1" cy="209.4" rx="1.8" ry="1.38"/><ellipse cx="239.5" cy="210.2" rx="1.8" ry="1.38"/><ellipse cx="248.3" cy="205.9" rx="1.8" ry="1.38"/><ellipse cx="251.2" cy="207.6" rx="1.8" ry="1.38"/><ellipse cx="245.4" cy="205.4" rx="1.8" ry="1.38"/><ellipse cx="254.2" cy="208.3" rx="1.8" ry="1.38"/><ellipse cx="242.4" cy="206.7" rx="1.8" ry="1.38"/><ellipse cx="257.1" cy="208.9" rx="1.8" ry="1.38"/><ellipse cx="239.5" cy="207.1" rx="1.8" ry="1.38"/><ellipse cx="249.6" cy="201.1" rx="1.8" ry="1.38"/><ellipse cx="247.0" cy="202.8" rx="1.8" ry="1.38"/><ellipse cx="252.1" cy="204.3" rx="1.8" ry="1.38"/><ellipse cx="244.5" cy="204.6" rx="1.8" ry="1.38"/><ellipse cx="254.6" cy="202.0" rx="1.8" ry="1.38"/><ellipse cx="242.0" cy="202.4" rx="1.8" ry="1.38"/><ellipse cx="257.1" cy="203.7" rx="1.8" ry="1.38"/><ellipse cx="239.5" cy="200.4" rx="1.8" ry="1.38"/><ellipse cx="248.3" cy="199.8" rx="1.8" ry="1.38"/><ellipse cx="251.7" cy="199.1" rx="1.8" ry="1.38"/><ellipse cx="244.9" cy="197.2" rx="1.8" ry="1.38"/><ellipse cx="255.1" cy="196.4" rx="1.8" ry="1.38"/><ellipse cx="241.5" cy="197.8" rx="1.8" ry="1.38"/><ellipse cx="248.3" cy="193.6" rx="1.8" ry="1.38"/><ellipse cx="251.7" cy="191.7" rx="1.8" ry="1.38"/><ellipse cx="244.9" cy="194.1" rx="1.8" ry="1.38"/><ellipse cx="255.1" cy="192.8" rx="1.8" ry="1.38"/><ellipse cx="241.5" cy="195.6" rx="1.8" ry="1.38"/><ellipse cx="248.3" cy="188.0" rx="1.8" ry="1.38"/><ellipse cx="251.7" cy="189.5" rx="1.8" ry="1.38"/><ellipse cx="244.9" cy="187.3" rx="1.8" ry="1.38"/><ellipse cx="255.1" cy="190.6" rx="1.8" ry="1.38"/><ellipse cx="241.5" cy="189.1" rx="1.8" ry="1.38"/><ellipse cx="250.0" cy="184.3" rx="1.8" ry="1.38"/><ellipse cx="246.6" cy="185.3" rx="1.8" ry="1.38"/><ellipse cx="253.4" cy="182.7" rx="1.8" ry="1.38"/><ellipse cx="243.2" cy="186.0" rx="1.8" ry="1.38"/><ellipse cx="248.3" cy="181.4" rx="1.8" ry="1.38"/><ellipse cx="251.7" cy="178.8" rx="1.8" ry="1.38"/><ellipse cx="244.9" cy="179.9" rx="1.8" ry="1.38"/><ellipse cx="248.3" cy="177.0" rx="1.8" ry="1.38"/><ellipse cx="251.7" cy="174.7" rx="1.8" ry="1.38"/><ellipse cx="244.9" cy="173.0" rx="1.8" ry="1.38"/><ellipse cx="248.3" cy="170.5" rx="1.8" ry="1.38"/><ellipse cx="251.7" cy="168.1" rx="1.8" ry="1.38"/><ellipse cx="244.9" cy="171.6" rx="1.8" ry="1.38"/><ellipse cx="248.3" cy="164.3" rx="1.8" ry="1.38"/><ellipse cx="250.0" cy="161.4" rx="1.8" ry="1.38"/><ellipse cx="246.6" cy="159.1" rx="1.8" ry="1.38"/><ellipse cx="248.3" cy="156.8" rx="1.8" ry="1.38"/></g>
<path d="M238.8 201.93H257.8M243.4 217.31H253.2M243.4 186.55H253.2" stroke="#adadad" stroke-width="0.9" fill="none"/>
<!-- panel 7 -->
<path d="M54.0 266.2V347.3" stroke="#6e6e6e" stroke-width="0.85" fill="none"/>
<path d="M53.6 347.3H126.6" stroke="#9c9c9c" stroke-width="1.0" fill="none"/>
<path d="M49.7 347.30H54.0" stroke="#6e6e6e" stroke-width="0.7"/>
<text transform="translate(48.30,349.75) scale(1.1227536231884057,1)" font-size="6.9" font-weight="bold" text-anchor="end" fill="#111" stroke="#111" stroke-width="0.22">0</text>
<path d="M49.7 320.27H54.0" stroke="#6e6e6e" stroke-width="0.7"/>
<text transform="translate(48.30,322.72) scale(1.1227536231884057,1)" font-size="6.9" font-weight="bold" text-anchor="end" fill="#111" stroke="#111" stroke-width="0.22">20</text>
<path d="M49.7 293.23H54.0" stroke="#6e6e6e" stroke-width="0.7"/>
<text transform="translate(48.30,295.68) scale(1.1227536231884057,1)" font-size="6.9" font-weight="bold" text-anchor="end" fill="#111" stroke="#111" stroke-width="0.22">40</text>
<path d="M49.7 266.20H54.0" stroke="#6e6e6e" stroke-width="0.7"/>
<text transform="translate(48.30,268.65) scale(1.1227536231884057,1)" font-size="6.9" font-weight="bold" text-anchor="end" fill="#111" stroke="#111" stroke-width="0.22">60</text>
<path d="M74.3 347.3V350.0" stroke="#6e6e6e" stroke-width="0.7"/>
<text transform="translate(74.30,356.35) scale(1.1578125,1)" font-size="6.4" font-weight="bold" text-anchor="middle" fill="#111" stroke="#111" stroke-width="0.2">NBD</text>
<path d="M105.5 347.3V350.0" stroke="#6e6e6e" stroke-width="0.7"/>
<text transform="translate(105.50,356.35) scale(1.1578125,1)" font-size="6.4" font-weight="bold" text-anchor="middle" fill="#111" stroke="#111" stroke-width="0.2">KFRT</text>
<text transform="translate(33.80,370.80) rotate(-90)" font-size="6.4" textLength="128.0" lengthAdjust="spacingAndGlyphs" fill="#111" stroke="#111" stroke-width="0.3">Percent of &#160;IRF8 positive classical monocytes</text>
<path d="M74.1 263.6V257.7H105.7V263.6" stroke="#4d4d4d" stroke-width="0.7" fill="none"/>
<text transform="translate(91.10,255.05) scale(1.179,1)" font-size="5.0" font-weight="normal" text-anchor="middle" fill="#3c3c3c" stroke="#3c3c3c" stroke-width="0.08">p=0.0001</text>
<text x="108.55" y="268.35" font-size="6.4" font-weight="bold" letter-spacing="1.51" text-anchor="middle" fill="#1c1c1c" stroke="#1c1c1c" stroke-width="0.25">****</text>
<g fill="#0a0a0a" stroke="#0a0a0a" stroke-opacity="0.38" stroke-width="0.9"><ellipse cx="74.8" cy="346.0" rx="1.8" ry="1.38"/><ellipse cx="73.8" cy="345.4" rx="1.8" ry="1.38"/><ellipse cx="75.9" cy="345.5" rx="1.8" ry="1.38"/><ellipse cx="72.7" cy="345.4" rx="1.8" ry="1.38"/><ellipse cx="76.9" cy="345.6" rx="1.8" ry="1.38"/><ellipse cx="71.7" cy="345.6" rx="1.8" ry="1.38"/><ellipse cx="77.9" cy="345.3" rx="1.8" ry="1.38"/><ellipse cx="70.7" cy="345.2" rx="1.8" ry="1.38"/><ellipse cx="79.0" cy="345.7" rx="1.8" ry="1.38"/><ellipse cx="69.6" cy="345.0" rx="1.8" ry="1.38"/><ellipse cx="80.0" cy="346.1" rx="1.8" ry="1.38"/><ellipse cx="68.6" cy="344.9" rx="1.8" ry="1.38"/><ellipse cx="81.0" cy="345.1" rx="1.8" ry="1.38"/><ellipse cx="67.6" cy="345.1" rx="1.8" ry="1.38"/><ellipse cx="82.1" cy="346.2" rx="1.8" ry="1.38"/><ellipse cx="66.5" cy="345.9" rx="1.8" ry="1.38"/><ellipse cx="83.1" cy="345.9" rx="1.8" ry="1.38"/><ellipse cx="65.5" cy="345.8" rx="1.8" ry="1.38"/><ellipse cx="75.3" cy="342.6" rx="1.8" ry="1.38"/><ellipse cx="73.3" cy="342.1" rx="1.8" ry="1.38"/><ellipse cx="77.2" cy="342.5" rx="1.8" ry="1.38"/><ellipse cx="71.4" cy="341.8" rx="1.8" ry="1.38"/><ellipse cx="79.2" cy="342.9" rx="1.8" ry="1.38"/><ellipse cx="69.4" cy="341.7" rx="1.8" ry="1.38"/><ellipse cx="81.1" cy="343.0" rx="1.8" ry="1.38"/><ellipse cx="67.5" cy="342.3" rx="1.8" ry="1.38"/><ellipse cx="83.1" cy="342.8" rx="1.8" ry="1.38"/><ellipse cx="65.5" cy="342.9" rx="1.8" ry="1.38"/><ellipse cx="75.8" cy="339.1" rx="1.8" ry="1.38"/><ellipse cx="72.8" cy="339.7" rx="1.8" ry="1.38"/><ellipse cx="78.6" cy="339.5" rx="1.8" ry="1.38"/><ellipse cx="70.0" cy="338.9" rx="1.8" ry="1.38"/><ellipse cx="81.5" cy="338.5" rx="1.8" ry="1.38"/><ellipse cx="67.0" cy="339.3" rx="1.8" ry="1.38"/><ellipse cx="75.8" cy="336.0" rx="1.8" ry="1.38"/><ellipse cx="72.8" cy="335.5" rx="1.8" ry="1.38"/><ellipse cx="75.8" cy="332.3" rx="1.8" ry="1.38"/><ellipse cx="72.8" cy="333.0" rx="1.8" ry="1.38"/><ellipse cx="75.8" cy="329.1" rx="1.8" ry="1.38"/><ellipse cx="72.8" cy="329.8" rx="1.8" ry="1.38"/><ellipse cx="74.3" cy="326.4" rx="1.8" ry="1.38"/><ellipse cx="77.2" cy="325.4" rx="1.8" ry="1.38"/><ellipse cx="71.4" cy="326.0" rx="1.8" ry="1.38"/><ellipse cx="74.3" cy="323.3" rx="1.8" ry="1.38"/><ellipse cx="74.3" cy="295.9" rx="1.8" ry="1.38"/></g>
<path d="M64.8 341.35H83.8M69.3 331.35H79.3" stroke="#a2a2a2" stroke-width="0.9" fill="none"/>
<g fill="#868686" stroke="#868686" stroke-opacity="0.38" stroke-width="0.9"><ellipse cx="106.8" cy="345.5" rx="1.8" ry="1.38"/><ellipse cx="104.2" cy="346.1" rx="1.8" ry="1.38"/><ellipse cx="109.3" cy="345.2" rx="1.8" ry="1.38"/><ellipse cx="101.7" cy="345.1" rx="1.8" ry="1.38"/><ellipse cx="111.8" cy="346.3" rx="1.8" ry="1.38"/><ellipse cx="99.2" cy="345.9" rx="1.8" ry="1.38"/><ellipse cx="114.3" cy="345.4" rx="1.8" ry="1.38"/><ellipse cx="96.7" cy="345.7" rx="1.8" ry="1.38"/><ellipse cx="105.5" cy="341.9" rx="1.8" ry="1.38"/><ellipse cx="107.7" cy="342.0" rx="1.8" ry="1.38"/><ellipse cx="103.3" cy="342.3" rx="1.8" ry="1.38"/><ellipse cx="109.9" cy="342.1" rx="1.8" ry="1.38"/><ellipse cx="101.1" cy="342.9" rx="1.8" ry="1.38"/><ellipse cx="112.1" cy="341.6" rx="1.8" ry="1.38"/><ellipse cx="98.9" cy="342.7" rx="1.8" ry="1.38"/><ellipse cx="114.3" cy="343.1" rx="1.8" ry="1.38"/><ellipse cx="96.7" cy="342.6" rx="1.8" ry="1.38"/><ellipse cx="105.5" cy="338.6" rx="1.8" ry="1.38"/><ellipse cx="108.4" cy="339.2" rx="1.8" ry="1.38"/><ellipse cx="102.6" cy="338.7" rx="1.8" ry="1.38"/><ellipse cx="111.3" cy="338.9" rx="1.8" ry="1.38"/><ellipse cx="99.7" cy="339.4" rx="1.8" ry="1.38"/><ellipse cx="114.2" cy="339.6" rx="1.8" ry="1.38"/><ellipse cx="96.8" cy="339.5" rx="1.8" ry="1.38"/><ellipse cx="107.0" cy="336.0" rx="1.8" ry="1.38"/><ellipse cx="104.0" cy="335.3" rx="1.8" ry="1.38"/><ellipse cx="109.8" cy="335.5" rx="1.8" ry="1.38"/><ellipse cx="101.2" cy="336.4" rx="1.8" ry="1.38"/><ellipse cx="107.0" cy="331.8" rx="1.8" ry="1.38"/><ellipse cx="104.0" cy="332.2" rx="1.8" ry="1.38"/><ellipse cx="109.8" cy="332.9" rx="1.8" ry="1.38"/><ellipse cx="101.2" cy="332.5" rx="1.8" ry="1.38"/><ellipse cx="107.0" cy="328.9" rx="1.8" ry="1.38"/><ellipse cx="104.0" cy="329.5" rx="1.8" ry="1.38"/><ellipse cx="105.5" cy="326.6" rx="1.8" ry="1.38"/><ellipse cx="108.4" cy="325.2" rx="1.8" ry="1.38"/><ellipse cx="102.6" cy="326.2" rx="1.8" ry="1.38"/><ellipse cx="107.0" cy="322.0" rx="1.8" ry="1.38"/><ellipse cx="104.0" cy="322.9" rx="1.8" ry="1.38"/><ellipse cx="107.0" cy="319.8" rx="1.8" ry="1.38"/><ellipse cx="104.0" cy="319.2" rx="1.8" ry="1.38"/><ellipse cx="105.5" cy="316.6" rx="1.8" ry="1.38"/><ellipse cx="108.4" cy="315.3" rx="1.8" ry="1.38"/><ellipse cx="102.6" cy="315.9" rx="1.8" ry="1.38"/><ellipse cx="107.0" cy="312.3" rx="1.8" ry="1.38"/><ellipse cx="104.0" cy="312.7" rx="1.8" ry="1.38"/><ellipse cx="107.0" cy="309.1" rx="1.8" ry="1.38"/><ellipse cx="104.0" cy="309.7" rx="1.8" ry="1.38"/><ellipse cx="107.0" cy="305.8" rx="1.8" ry="1.38"/><ellipse cx="104.0" cy="306.2" rx="1.8" ry="1.38"/><ellipse cx="107.0" cy="303.4" rx="1.8" ry="1.38"/><ellipse cx="104.0" cy="302.7" rx="1.8" ry="1.38"/><ellipse cx="105.5" cy="300.0" rx="1.8" ry="1.38"/><ellipse cx="108.4" cy="299.7" rx="1.8" ry="1.38"/><ellipse cx="102.6" cy="298.9" rx="1.8" ry="1.38"/><ellipse cx="105.5" cy="295.6" rx="1.8" ry="1.38"/><ellipse cx="107.0" cy="292.4" rx="1.8" ry="1.38"/><ellipse cx="104.0" cy="293.3" rx="1.8" ry="1.38"/><ellipse cx="105.5" cy="289.7" rx="1.8" ry="1.38"/><ellipse cx="107.0" cy="282.6" rx="1.8" ry="1.38"/><ellipse cx="104.0" cy="283.6" rx="1.8" ry="1.38"/><ellipse cx="107.0" cy="280.0" rx="1.8" ry="1.38"/><ellipse cx="104.0" cy="279.3" rx="1.8" ry="1.38"/><ellipse cx="107.0" cy="276.0" rx="1.8" ry="1.38"/><ellipse cx="104.0" cy="276.9" rx="1.8" ry="1.38"/><ellipse cx="107.0" cy="273.8" rx="1.8" ry="1.38"/><ellipse cx="104.0" cy="272.9" rx="1.8" ry="1.38"/></g>
<path d="M95.3 326.48H115.7M100.5 306.75H110.5" stroke="#adadad" stroke-width="0.9" fill="none"/>
<!-- panel 8 -->
<path d="M196.7 268.0V347.4" stroke="#6e6e6e" stroke-width="0.85" fill="none"/>
<path d="M196.29999999999998 347.4H268.1" stroke="#9c9c9c" stroke-width="1.0" fill="none"/>
<path d="M192.39999999999998 347.40H196.7" stroke="#6e6e6e" stroke-width="0.7"/>
<text transform="translate(190.90,349.85) scale(1.1227536231884057,1)" font-size="6.9" font-weight="bold" text-anchor="end" fill="#111" stroke="#111" stroke-width="0.22">0</text>
<path d="M192.39999999999998 331.52H196.7" stroke="#6e6e6e" stroke-width="0.7"/>
<text transform="translate(190.90,333.97) scale(1.1227536231884057,1)" font-size="6.9" font-weight="bold" text-anchor="end" fill="#111" stroke="#111" stroke-width="0.22">500</text>
<path d="M192.39999999999998 315.64H196.7" stroke="#6e6e6e" stroke-width="0.7"/>
<text transform="translate(190.90,318.09) scale(1.1227536231884057,1)" font-size="6.9" font-weight="bold" text-anchor="end" fill="#111" stroke="#111" stroke-width="0.22">1000</text>
<path d="M192.39999999999998 299.76H196.7" stroke="#6e6e6e" stroke-width="0.7"/>
<text transform="translate(190.90,302.21) scale(1.1227536231884057,1)" font-size="6.9" font-weight="bold" text-anchor="end" fill="#111" stroke="#111" stroke-width="0.22">1500</text>
<path d="M192.39999999999998 283.88H196.7" stroke="#6e6e6e" stroke-width="0.7"/>
<text transform="translate(190.90,286.33) scale(1.1227536231884057,1)" font-size="6.9" font-weight="bold" text-anchor="end" fill="#111" stroke="#111" stroke-width="0.22">2000</text>
<path d="M192.39999999999998 268.00H196.7" stroke="#6e6e6e" stroke-width="0.7"/>
<text transform="translate(190.90,270.45) scale(1.1227536231884057,1)" font-size="6.9" font-weight="bold" text-anchor="end" fill="#111" stroke="#111" stroke-width="0.22">2500</text>
<path d="M216.4 347.4V350.09999999999997" stroke="#6e6e6e" stroke-width="0.7"/>
<text transform="translate(216.40,356.45) scale(1.1578125,1)" font-size="6.4" font-weight="bold" text-anchor="middle" fill="#111" stroke="#111" stroke-width="0.2">NBD</text>
<path d="M247.3 347.4V350.09999999999997" stroke="#6e6e6e" stroke-width="0.7"/>
<text transform="translate(247.30,356.45) scale(1.1578125,1)" font-size="6.4" font-weight="bold" text-anchor="middle" fill="#111" stroke="#111" stroke-width="0.2">KFRT</text>
<text transform="translate(168.60,356.60) rotate(-90)" font-size="6.4" textLength="98.9" lengthAdjust="spacingAndGlyphs" fill="#111" stroke="#111" stroke-width="0.3">gMFI of IRF8 in classical monocytes</text>
<path d="M216.5 263.2V259.0H248.0V263.2" stroke="#4d4d4d" stroke-width="0.7" fill="none"/>
<text transform="translate(234.20,256.35) scale(1.179,1)" font-size="5.0" font-weight="normal" text-anchor="middle" fill="#3c3c3c" stroke="#3c3c3c" stroke-width="0.08">p=0.0001</text>
<text x="250.45" y="270.05" font-size="6.4" font-weight="bold" letter-spacing="1.51" text-anchor="middle" fill="#1c1c1c" stroke="#1c1c1c" stroke-width="0.25">****</text>
<g fill="#0a0a0a" stroke="#0a0a0a" stroke-opacity="0.38" stroke-width="0.9"><ellipse cx="216.4" cy="323.3" rx="1.8" ry="1.38"/><ellipse cx="217.8" cy="320.4" rx="1.8" ry="1.38"/><ellipse cx="215.0" cy="318.1" rx="1.8" ry="1.38"/><ellipse cx="217.8" cy="316.2" rx="1.8" ry="1.38"/><ellipse cx="215.0" cy="315.5" rx="1.8" ry="1.38"/><ellipse cx="220.8" cy="317.1" rx="1.8" ry="1.38"/><ellipse cx="212.1" cy="314.9" rx="1.8" ry="1.38"/><ellipse cx="217.8" cy="311.8" rx="1.8" ry="1.38"/><ellipse cx="215.0" cy="312.8" rx="1.8" ry="1.38"/><ellipse cx="220.8" cy="313.2" rx="1.8" ry="1.38"/><ellipse cx="212.1" cy="312.8" rx="1.8" ry="1.38"/><ellipse cx="217.7" cy="307.8" rx="1.8" ry="1.38"/><ellipse cx="215.1" cy="310.0" rx="1.8" ry="1.38"/><ellipse cx="220.2" cy="311.1" rx="1.8" ry="1.38"/><ellipse cx="212.6" cy="308.7" rx="1.8" ry="1.38"/><ellipse cx="222.7" cy="310.3" rx="1.8" ry="1.38"/><ellipse cx="210.1" cy="307.9" rx="1.8" ry="1.38"/><ellipse cx="225.2" cy="310.5" rx="1.8" ry="1.38"/><ellipse cx="207.6" cy="309.7" rx="1.8" ry="1.38"/><ellipse cx="217.7" cy="305.0" rx="1.8" ry="1.38"/><ellipse cx="215.1" cy="307.6" rx="1.8" ry="1.38"/><ellipse cx="220.2" cy="306.5" rx="1.8" ry="1.38"/><ellipse cx="212.6" cy="307.1" rx="1.8" ry="1.38"/><ellipse cx="222.7" cy="305.6" rx="1.8" ry="1.38"/><ellipse cx="210.1" cy="307.0" rx="1.8" ry="1.38"/><ellipse cx="225.2" cy="305.6" rx="1.8" ry="1.38"/><ellipse cx="207.6" cy="304.5" rx="1.8" ry="1.38"/><ellipse cx="217.8" cy="303.0" rx="1.8" ry="1.38"/><ellipse cx="215.0" cy="302.8" rx="1.8" ry="1.38"/><ellipse cx="220.8" cy="303.8" rx="1.8" ry="1.38"/><ellipse cx="212.1" cy="301.7" rx="1.8" ry="1.38"/><ellipse cx="223.7" cy="301.3" rx="1.8" ry="1.38"/><ellipse cx="209.2" cy="302.0" rx="1.8" ry="1.38"/><ellipse cx="217.8" cy="300.6" rx="1.8" ry="1.38"/><ellipse cx="215.0" cy="298.6" rx="1.8" ry="1.38"/><ellipse cx="220.8" cy="299.4" rx="1.8" ry="1.38"/><ellipse cx="212.1" cy="297.9" rx="1.8" ry="1.38"/><ellipse cx="216.4" cy="295.1" rx="1.8" ry="1.38"/><ellipse cx="219.3" cy="296.8" rx="1.8" ry="1.38"/><ellipse cx="213.5" cy="295.9" rx="1.8" ry="1.38"/><ellipse cx="217.8" cy="291.5" rx="1.8" ry="1.38"/><ellipse cx="215.0" cy="293.3" rx="1.8" ry="1.38"/><ellipse cx="216.4" cy="280.4" rx="1.8" ry="1.38"/></g>
<path d="M207.9 306.11H224.9M212.0 313.73H220.8M212.0 298.49H220.8" stroke="#a2a2a2" stroke-width="0.9" fill="none"/>
<g fill="#868686" stroke="#868686" stroke-opacity="0.38" stroke-width="0.9"><ellipse cx="247.3" cy="334.7" rx="1.8" ry="1.38"/><ellipse cx="247.3" cy="332.4" rx="1.8" ry="1.38"/><ellipse cx="247.3" cy="327.9" rx="1.8" ry="1.38"/><ellipse cx="250.2" cy="330.4" rx="1.8" ry="1.38"/><ellipse cx="244.4" cy="329.2" rx="1.8" ry="1.38"/><ellipse cx="247.3" cy="325.9" rx="1.8" ry="1.38"/><ellipse cx="250.2" cy="324.8" rx="1.8" ry="1.38"/><ellipse cx="244.4" cy="326.7" rx="1.8" ry="1.38"/><ellipse cx="253.1" cy="325.7" rx="1.8" ry="1.38"/><ellipse cx="241.5" cy="327.5" rx="1.8" ry="1.38"/><ellipse cx="247.3" cy="324.2" rx="1.8" ry="1.38"/><ellipse cx="249.5" cy="322.5" rx="1.8" ry="1.38"/><ellipse cx="245.1" cy="323.5" rx="1.8" ry="1.38"/><ellipse cx="251.7" cy="322.8" rx="1.8" ry="1.38"/><ellipse cx="242.9" cy="324.2" rx="1.8" ry="1.38"/><ellipse cx="253.9" cy="324.0" rx="1.8" ry="1.38"/><ellipse cx="240.7" cy="322.2" rx="1.8" ry="1.38"/><ellipse cx="256.1" cy="321.2" rx="1.8" ry="1.38"/><ellipse cx="238.5" cy="322.0" rx="1.8" ry="1.38"/><ellipse cx="248.1" cy="319.3" rx="1.8" ry="1.38"/><ellipse cx="246.5" cy="320.9" rx="1.8" ry="1.38"/><ellipse cx="249.7" cy="317.8" rx="1.8" ry="1.38"/><ellipse cx="244.9" cy="317.8" rx="1.8" ry="1.38"/><ellipse cx="251.3" cy="320.9" rx="1.8" ry="1.38"/><ellipse cx="243.3" cy="320.2" rx="1.8" ry="1.38"/><ellipse cx="252.9" cy="319.9" rx="1.8" ry="1.38"/><ellipse cx="241.7" cy="318.9" rx="1.8" ry="1.38"/><ellipse cx="254.5" cy="320.1" rx="1.8" ry="1.38"/><ellipse cx="240.1" cy="318.7" rx="1.8" ry="1.38"/><ellipse cx="256.1" cy="319.3" rx="1.8" ry="1.38"/><ellipse cx="238.5" cy="319.2" rx="1.8" ry="1.38"/><ellipse cx="247.3" cy="315.6" rx="1.8" ry="1.38"/><ellipse cx="248.4" cy="316.0" rx="1.8" ry="1.38"/><ellipse cx="246.2" cy="316.9" rx="1.8" ry="1.38"/><ellipse cx="249.5" cy="314.4" rx="1.8" ry="1.38"/><ellipse cx="245.1" cy="317.2" rx="1.8" ry="1.38"/><ellipse cx="250.6" cy="316.2" rx="1.8" ry="1.38"/><ellipse cx="244.0" cy="315.0" rx="1.8" ry="1.38"/><ellipse cx="251.7" cy="315.9" rx="1.8" ry="1.38"/><ellipse cx="242.9" cy="314.6" rx="1.8" ry="1.38"/><ellipse cx="252.8" cy="316.7" rx="1.8" ry="1.38"/><ellipse cx="241.8" cy="315.7" rx="1.8" ry="1.38"/><ellipse cx="253.9" cy="315.0" rx="1.8" ry="1.38"/><ellipse cx="240.7" cy="314.5" rx="1.8" ry="1.38"/><ellipse cx="255.0" cy="316.2" rx="1.8" ry="1.38"/><ellipse cx="239.6" cy="314.7" rx="1.8" ry="1.38"/><ellipse cx="256.1" cy="314.7" rx="1.8" ry="1.38"/><ellipse cx="238.5" cy="316.5" rx="1.8" ry="1.38"/><ellipse cx="248.1" cy="312.9" rx="1.8" ry="1.38"/><ellipse cx="246.5" cy="312.1" rx="1.8" ry="1.38"/><ellipse cx="249.7" cy="313.0" rx="1.8" ry="1.38"/><ellipse cx="244.9" cy="314.2" rx="1.8" ry="1.38"/><ellipse cx="251.3" cy="311.2" rx="1.8" ry="1.38"/><ellipse cx="243.3" cy="311.5" rx="1.8" ry="1.38"/><ellipse cx="252.9" cy="311.3" rx="1.8" ry="1.38"/><ellipse cx="241.7" cy="313.3" rx="1.8" ry="1.38"/><ellipse cx="254.5" cy="311.3" rx="1.8" ry="1.38"/><ellipse cx="240.1" cy="311.6" rx="1.8" ry="1.38"/><ellipse cx="256.1" cy="313.4" rx="1.8" ry="1.38"/><ellipse cx="238.5" cy="314.2" rx="1.8" ry="1.38"/><ellipse cx="248.1" cy="308.8" rx="1.8" ry="1.38"/><ellipse cx="246.5" cy="309.4" rx="1.8" ry="1.38"/><ellipse cx="249.7" cy="311.0" rx="1.8" ry="1.38"/><ellipse cx="244.9" cy="308.8" rx="1.8" ry="1.38"/><ellipse cx="251.3" cy="309.8" rx="1.8" ry="1.38"/><ellipse cx="243.3" cy="309.0" rx="1.8" ry="1.38"/><ellipse cx="252.9" cy="309.3" rx="1.8" ry="1.38"/><ellipse cx="241.7" cy="309.3" rx="1.8" ry="1.38"/><ellipse cx="254.5" cy="308.1" rx="1.8" ry="1.38"/><ellipse cx="240.1" cy="310.9" rx="1.8" ry="1.38"/><ellipse cx="256.1" cy="310.9" rx="1.8" ry="1.38"/><ellipse cx="238.5" cy="308.0" rx="1.8" ry="1.38"/><ellipse cx="247.3" cy="304.7" rx="1.8" ry="1.38"/><ellipse cx="249.5" cy="306.0" rx="1.8" ry="1.38"/><ellipse cx="245.1" cy="306.4" rx="1.8" ry="1.38"/><ellipse cx="251.7" cy="306.6" rx="1.8" ry="1.38"/><ellipse cx="242.9" cy="305.7" rx="1.8" ry="1.38"/><ellipse cx="253.9" cy="304.7" rx="1.8" ry="1.38"/><ellipse cx="240.7" cy="307.7" rx="1.8" ry="1.38"/><ellipse cx="256.1" cy="305.5" rx="1.8" ry="1.38"/><ellipse cx="238.5" cy="306.7" rx="1.8" ry="1.38"/><ellipse cx="248.8" cy="303.7" rx="1.8" ry="1.38"/><ellipse cx="245.9" cy="303.7" rx="1.8" ry="1.38"/><ellipse cx="251.7" cy="304.2" rx="1.8" ry="1.38"/><ellipse cx="243.0" cy="302.4" rx="1.8" ry="1.38"/><ellipse cx="254.6" cy="302.3" rx="1.8" ry="1.38"/><ellipse cx="240.1" cy="303.6" rx="1.8" ry="1.38"/><ellipse cx="248.8" cy="300.7" rx="1.8" ry="1.38"/><ellipse cx="245.9" cy="299.9" rx="1.8" ry="1.38"/><ellipse cx="251.7" cy="300.1" rx="1.8" ry="1.38"/><ellipse cx="243.0" cy="298.6" rx="1.8" ry="1.38"/><ellipse cx="248.8" cy="297.8" rx="1.8" ry="1.38"/><ellipse cx="245.9" cy="295.5" rx="1.8" ry="1.38"/><ellipse cx="247.3" cy="293.7" rx="1.8" ry="1.38"/></g>
<path d="M237.8 314.05H256.8M242.4 321.99H252.2M242.4 306.11H252.2" stroke="#adadad" stroke-width="0.9" fill="none"/>
<!-- panel 9 -->
<path d="M328.4 267.0V347.3" stroke="#6e6e6e" stroke-width="0.85" fill="none"/>
<path d="M328.0 347.3H399.7" stroke="#9c9c9c" stroke-width="1.0" fill="none"/>
<path d="M324.09999999999997 347.30H328.4" stroke="#6e6e6e" stroke-width="0.7"/>
<text transform="translate(322.40,349.75) scale(1.1227536231884057,1)" font-size="6.9" font-weight="bold" text-anchor="end" fill="#111" stroke="#111" stroke-width="0.22">0</text>
<path d="M324.09999999999997 320.53H328.4" stroke="#6e6e6e" stroke-width="0.7"/>
<text transform="translate(322.40,322.98) scale(1.1227536231884057,1)" font-size="6.9" font-weight="bold" text-anchor="end" fill="#111" stroke="#111" stroke-width="0.22">50</text>
<path d="M324.09999999999997 293.77H328.4" stroke="#6e6e6e" stroke-width="0.7"/>
<text transform="translate(322.40,296.22) scale(1.1227536231884057,1)" font-size="6.9" font-weight="bold" text-anchor="end" fill="#111" stroke="#111" stroke-width="0.22">100</text>
<path d="M324.09999999999997 267.00H328.4" stroke="#6e6e6e" stroke-width="0.7"/>
<text transform="translate(322.40,269.45) scale(1.1227536231884057,1)" font-size="6.9" font-weight="bold" text-anchor="end" fill="#111" stroke="#111" stroke-width="0.22">150</text>
<path d="M348.4 347.3V350.0" stroke="#6e6e6e" stroke-width="0.7"/>
<text transform="translate(348.40,356.25) scale(1.1578125,1)" font-size="6.4" font-weight="bold" text-anchor="middle" fill="#111" stroke="#111" stroke-width="0.2">NBD</text>
<path d="M379.4 347.3V350.0" stroke="#6e6e6e" stroke-width="0.7"/>
<text transform="translate(379.40,356.25) scale(1.1578125,1)" font-size="6.4" font-weight="bold" text-anchor="middle" fill="#111" stroke="#111" stroke-width="0.2">KFRT</text>
<text transform="translate(304.00,375.70) rotate(-90)" font-size="6.4" textLength="138.0" lengthAdjust="spacingAndGlyphs" fill="#111" stroke="#111" stroke-width="0.3">Percent of &#160;IRF8 positive intermediate monocytes</text>
<path d="M348.2 264.0V258.6H380.1V264.0" stroke="#4d4d4d" stroke-width="0.7" fill="none"/>
<text transform="translate(366.20,255.35) scale(1.179,1)" font-size="5.0" font-weight="normal" text-anchor="middle" fill="#3c3c3c" stroke="#3c3c3c" stroke-width="0.08">p=0.0001</text>
<text x="382.35" y="269.15" font-size="6.4" font-weight="bold" letter-spacing="1.51" text-anchor="middle" fill="#1c1c1c" stroke="#1c1c1c" stroke-width="0.25">****</text>
<g fill="#0a0a0a" stroke="#0a0a0a" stroke-opacity="0.38" stroke-width="0.9"><ellipse cx="348.4" cy="346.2" rx="1.8" ry="1.38"/><ellipse cx="351.3" cy="345.7" rx="1.8" ry="1.38"/><ellipse cx="345.5" cy="345.9" rx="1.8" ry="1.38"/><ellipse cx="354.2" cy="345.5" rx="1.8" ry="1.38"/><ellipse cx="342.6" cy="346.1" rx="1.8" ry="1.38"/><ellipse cx="357.1" cy="345.6" rx="1.8" ry="1.38"/><ellipse cx="339.7" cy="345.9" rx="1.8" ry="1.38"/><ellipse cx="348.4" cy="342.7" rx="1.8" ry="1.38"/><ellipse cx="351.3" cy="342.4" rx="1.8" ry="1.38"/><ellipse cx="345.5" cy="342.7" rx="1.8" ry="1.38"/><ellipse cx="354.2" cy="341.8" rx="1.8" ry="1.38"/><ellipse cx="342.6" cy="342.2" rx="1.8" ry="1.38"/><ellipse cx="349.8" cy="338.9" rx="1.8" ry="1.38"/><ellipse cx="346.9" cy="339.4" rx="1.8" ry="1.38"/><ellipse cx="352.8" cy="339.2" rx="1.8" ry="1.38"/><ellipse cx="344.0" cy="338.4" rx="1.8" ry="1.38"/><ellipse cx="355.6" cy="338.5" rx="1.8" ry="1.38"/><ellipse cx="341.1" cy="339.2" rx="1.8" ry="1.38"/><ellipse cx="349.7" cy="336.0" rx="1.8" ry="1.38"/><ellipse cx="347.1" cy="336.0" rx="1.8" ry="1.38"/><ellipse cx="352.2" cy="335.2" rx="1.8" ry="1.38"/><ellipse cx="344.6" cy="335.4" rx="1.8" ry="1.38"/><ellipse cx="354.7" cy="335.6" rx="1.8" ry="1.38"/><ellipse cx="342.1" cy="335.3" rx="1.8" ry="1.38"/><ellipse cx="357.2" cy="336.4" rx="1.8" ry="1.38"/><ellipse cx="339.6" cy="336.1" rx="1.8" ry="1.38"/><ellipse cx="348.4" cy="332.3" rx="1.8" ry="1.38"/><ellipse cx="351.3" cy="333.1" rx="1.8" ry="1.38"/><ellipse cx="345.5" cy="332.8" rx="1.8" ry="1.38"/><ellipse cx="354.2" cy="332.7" rx="1.8" ry="1.38"/><ellipse cx="342.6" cy="332.6" rx="1.8" ry="1.38"/><ellipse cx="357.1" cy="331.8" rx="1.8" ry="1.38"/><ellipse cx="339.7" cy="332.2" rx="1.8" ry="1.38"/><ellipse cx="348.4" cy="329.7" rx="1.8" ry="1.38"/><ellipse cx="351.3" cy="329.7" rx="1.8" ry="1.38"/><ellipse cx="345.5" cy="328.9" rx="1.8" ry="1.38"/><ellipse cx="354.2" cy="328.9" rx="1.8" ry="1.38"/><ellipse cx="342.6" cy="329.2" rx="1.8" ry="1.38"/><ellipse cx="348.4" cy="326.5" rx="1.8" ry="1.38"/><ellipse cx="351.3" cy="325.4" rx="1.8" ry="1.38"/><ellipse cx="345.5" cy="325.7" rx="1.8" ry="1.38"/><ellipse cx="348.4" cy="322.7" rx="1.8" ry="1.38"/><ellipse cx="348.4" cy="320.5" rx="1.8" ry="1.38"/></g>
<path d="M339.9 334.99H356.9M344.0 341.41H352.8M344.0 328.56H352.8" stroke="#a2a2a2" stroke-width="0.9" fill="none"/>
<g fill="#868686" stroke="#868686" stroke-opacity="0.38" stroke-width="0.9"><ellipse cx="380.4" cy="302.7" rx="1.8" ry="1.38"/><ellipse cx="378.4" cy="302.0" rx="1.8" ry="1.38"/><ellipse cx="382.3" cy="302.1" rx="1.8" ry="1.38"/><ellipse cx="376.5" cy="303.2" rx="1.8" ry="1.38"/><ellipse cx="384.3" cy="302.9" rx="1.8" ry="1.38"/><ellipse cx="374.5" cy="302.3" rx="1.8" ry="1.38"/><ellipse cx="386.2" cy="303.4" rx="1.8" ry="1.38"/><ellipse cx="372.6" cy="302.5" rx="1.8" ry="1.38"/><ellipse cx="388.2" cy="303.0" rx="1.8" ry="1.38"/><ellipse cx="370.6" cy="302.4" rx="1.8" ry="1.38"/><ellipse cx="380.2" cy="299.2" rx="1.8" ry="1.38"/><ellipse cx="378.6" cy="298.9" rx="1.8" ry="1.38"/><ellipse cx="381.8" cy="299.4" rx="1.8" ry="1.38"/><ellipse cx="377.0" cy="299.9" rx="1.8" ry="1.38"/><ellipse cx="383.4" cy="298.7" rx="1.8" ry="1.38"/><ellipse cx="375.4" cy="300.0" rx="1.8" ry="1.38"/><ellipse cx="385.0" cy="299.6" rx="1.8" ry="1.38"/><ellipse cx="373.8" cy="299.0" rx="1.8" ry="1.38"/><ellipse cx="386.6" cy="299.5" rx="1.8" ry="1.38"/><ellipse cx="372.2" cy="299.7" rx="1.8" ry="1.38"/><ellipse cx="388.2" cy="300.1" rx="1.8" ry="1.38"/><ellipse cx="370.6" cy="299.2" rx="1.8" ry="1.38"/><ellipse cx="379.4" cy="296.3" rx="1.8" ry="1.38"/><ellipse cx="381.2" cy="295.7" rx="1.8" ry="1.38"/><ellipse cx="377.6" cy="296.6" rx="1.8" ry="1.38"/><ellipse cx="382.9" cy="296.1" rx="1.8" ry="1.38"/><ellipse cx="375.9" cy="296.9" rx="1.8" ry="1.38"/><ellipse cx="384.7" cy="296.0" rx="1.8" ry="1.38"/><ellipse cx="374.1" cy="296.4" rx="1.8" ry="1.38"/><ellipse cx="386.4" cy="295.9" rx="1.8" ry="1.38"/><ellipse cx="372.4" cy="296.3" rx="1.8" ry="1.38"/><ellipse cx="388.2" cy="295.6" rx="1.8" ry="1.38"/><ellipse cx="370.6" cy="296.7" rx="1.8" ry="1.38"/><ellipse cx="380.8" cy="309.5" rx="1.8" ry="1.38"/><ellipse cx="377.9" cy="308.8" rx="1.8" ry="1.38"/><ellipse cx="383.8" cy="309.9" rx="1.8" ry="1.38"/><ellipse cx="375.0" cy="308.9" rx="1.8" ry="1.38"/><ellipse cx="386.6" cy="309.1" rx="1.8" ry="1.38"/><ellipse cx="372.1" cy="309.3" rx="1.8" ry="1.38"/><ellipse cx="380.7" cy="305.5" rx="1.8" ry="1.38"/><ellipse cx="378.1" cy="306.8" rx="1.8" ry="1.38"/><ellipse cx="383.2" cy="306.1" rx="1.8" ry="1.38"/><ellipse cx="375.6" cy="306.5" rx="1.8" ry="1.38"/><ellipse cx="385.7" cy="306.0" rx="1.8" ry="1.38"/><ellipse cx="373.1" cy="306.3" rx="1.8" ry="1.38"/><ellipse cx="388.2" cy="305.8" rx="1.8" ry="1.38"/><ellipse cx="370.6" cy="305.4" rx="1.8" ry="1.38"/><ellipse cx="379.4" cy="325.5" rx="1.8" ry="1.38"/><ellipse cx="379.4" cy="322.4" rx="1.8" ry="1.38"/><ellipse cx="382.3" cy="323.1" rx="1.8" ry="1.38"/><ellipse cx="376.5" cy="322.8" rx="1.8" ry="1.38"/><ellipse cx="380.8" cy="319.0" rx="1.8" ry="1.38"/><ellipse cx="377.9" cy="319.4" rx="1.8" ry="1.38"/><ellipse cx="383.8" cy="318.5" rx="1.8" ry="1.38"/><ellipse cx="375.0" cy="319.9" rx="1.8" ry="1.38"/><ellipse cx="380.8" cy="316.1" rx="1.8" ry="1.38"/><ellipse cx="377.9" cy="315.3" rx="1.8" ry="1.38"/><ellipse cx="379.4" cy="313.2" rx="1.8" ry="1.38"/><ellipse cx="382.3" cy="312.5" rx="1.8" ry="1.38"/><ellipse cx="376.5" cy="312.2" rx="1.8" ry="1.38"/><ellipse cx="379.4" cy="334.7" rx="1.8" ry="1.38"/><ellipse cx="380.8" cy="338.9" rx="1.8" ry="1.38"/><ellipse cx="377.9" cy="339.6" rx="1.8" ry="1.38"/><ellipse cx="379.4" cy="341.4" rx="1.8" ry="1.38"/><ellipse cx="379.4" cy="346.3" rx="1.8" ry="1.38"/><ellipse cx="382.3" cy="345.9" rx="1.8" ry="1.38"/><ellipse cx="376.5" cy="346.2" rx="1.8" ry="1.38"/><ellipse cx="385.2" cy="345.7" rx="1.8" ry="1.38"/><ellipse cx="373.6" cy="345.4" rx="1.8" ry="1.38"/></g>
<path d="M369.2 306.61H389.6M374.1 319.46H384.7M374.1 294.84H384.7" stroke="#adadad" stroke-width="0.9" fill="none"/>
<!-- panel 10 -->
<path d="M471.0 267.6V347.9" stroke="#6e6e6e" stroke-width="0.85" fill="none"/>
<path d="M470.6 347.9H542.7" stroke="#9c9c9c" stroke-width="1.0" fill="none"/>
<path d="M466.7 347.90H471.0" stroke="#6e6e6e" stroke-width="0.7"/>
<text transform="translate(465.30,350.35) scale(1.1227536231884057,1)" font-size="6.9" font-weight="bold" text-anchor="end" fill="#111" stroke="#111" stroke-width="0.22">0</text>
<path d="M466.7 327.82H471.0" stroke="#6e6e6e" stroke-width="0.7"/>
<text transform="translate(465.30,330.27) scale(1.1227536231884057,1)" font-size="6.9" font-weight="bold" text-anchor="end" fill="#111" stroke="#111" stroke-width="0.22">1000</text>
<path d="M466.7 307.75H471.0" stroke="#6e6e6e" stroke-width="0.7"/>
<text transform="translate(465.30,310.20) scale(1.1227536231884057,1)" font-size="6.9" font-weight="bold" text-anchor="end" fill="#111" stroke="#111" stroke-width="0.22">2000</text>
<path d="M466.7 287.68H471.0" stroke="#6e6e6e" stroke-width="0.7"/>
<text transform="translate(465.30,290.12) scale(1.1227536231884057,1)" font-size="6.9" font-weight="bold" text-anchor="end" fill="#111" stroke="#111" stroke-width="0.22">3000</text>
<path d="M466.7 267.60H471.0" stroke="#6e6e6e" stroke-width="0.7"/>
<text transform="translate(465.30,270.05) scale(1.1227536231884057,1)" font-size="6.9" font-weight="bold" text-anchor="end" fill="#111" stroke="#111" stroke-width="0.22">4000</text>
<path d="M491.2 347.9V350.59999999999997" stroke="#6e6e6e" stroke-width="0.7"/>
<text transform="translate(491.20,357.05) scale(1.1578125,1)" font-size="6.4" font-weight="bold" text-anchor="middle" fill="#111" stroke="#111" stroke-width="0.2">NBD</text>
<path d="M522.2 347.9V350.59999999999997" stroke="#6e6e6e" stroke-width="0.7"/>
<text transform="translate(522.20,357.05) scale(1.1578125,1)" font-size="6.4" font-weight="bold" text-anchor="middle" fill="#111" stroke="#111" stroke-width="0.2">KFRT</text>
<text transform="translate(442.20,363.40) rotate(-90)" font-size="6.4" textLength="111.2" lengthAdjust="spacingAndGlyphs" fill="#111" stroke="#111" stroke-width="0.3">gMFI of IRF8 in intermediate monocytes</text>
<path d="M492.3 272.2V268.4H524.4V272.2" stroke="#4d4d4d" stroke-width="0.7" fill="none"/>
<text transform="translate(508.50,265.55) scale(1.179,1)" font-size="5.0" font-weight="normal" text-anchor="middle" fill="#3c3c3c" stroke="#3c3c3c" stroke-width="0.08">p=0.9</text>
<g fill="#0a0a0a" stroke="#0a0a0a" stroke-opacity="0.38" stroke-width="0.9"><ellipse cx="491.2" cy="328.5" rx="1.8" ry="1.38"/><ellipse cx="491.2" cy="327.4" rx="1.8" ry="1.38"/><ellipse cx="494.1" cy="325.7" rx="1.8" ry="1.38"/><ellipse cx="488.3" cy="326.4" rx="1.8" ry="1.38"/><ellipse cx="492.6" cy="321.6" rx="1.8" ry="1.38"/><ellipse cx="489.8" cy="322.5" rx="1.8" ry="1.38"/><ellipse cx="495.6" cy="324.5" rx="1.8" ry="1.38"/><ellipse cx="486.8" cy="323.2" rx="1.8" ry="1.38"/><ellipse cx="491.2" cy="318.2" rx="1.8" ry="1.38"/><ellipse cx="494.1" cy="320.4" rx="1.8" ry="1.38"/><ellipse cx="488.3" cy="318.4" rx="1.8" ry="1.38"/><ellipse cx="497.0" cy="319.7" rx="1.8" ry="1.38"/><ellipse cx="485.4" cy="318.7" rx="1.8" ry="1.38"/><ellipse cx="492.0" cy="316.4" rx="1.8" ry="1.38"/><ellipse cx="490.4" cy="315.7" rx="1.8" ry="1.38"/><ellipse cx="493.6" cy="317.0" rx="1.8" ry="1.38"/><ellipse cx="488.8" cy="317.4" rx="1.8" ry="1.38"/><ellipse cx="495.2" cy="315.4" rx="1.8" ry="1.38"/><ellipse cx="487.2" cy="315.9" rx="1.8" ry="1.38"/><ellipse cx="496.8" cy="316.7" rx="1.8" ry="1.38"/><ellipse cx="485.6" cy="316.1" rx="1.8" ry="1.38"/><ellipse cx="498.4" cy="317.6" rx="1.8" ry="1.38"/><ellipse cx="484.0" cy="315.1" rx="1.8" ry="1.38"/><ellipse cx="500.0" cy="317.8" rx="1.8" ry="1.38"/><ellipse cx="482.4" cy="317.2" rx="1.8" ry="1.38"/><ellipse cx="491.2" cy="314.8" rx="1.8" ry="1.38"/><ellipse cx="492.7" cy="312.3" rx="1.8" ry="1.38"/><ellipse cx="489.7" cy="314.2" rx="1.8" ry="1.38"/><ellipse cx="494.1" cy="314.6" rx="1.8" ry="1.38"/><ellipse cx="488.3" cy="314.4" rx="1.8" ry="1.38"/><ellipse cx="495.6" cy="313.7" rx="1.8" ry="1.38"/><ellipse cx="486.8" cy="313.2" rx="1.8" ry="1.38"/><ellipse cx="497.1" cy="311.9" rx="1.8" ry="1.38"/><ellipse cx="485.3" cy="314.0" rx="1.8" ry="1.38"/><ellipse cx="498.5" cy="312.6" rx="1.8" ry="1.38"/><ellipse cx="483.9" cy="313.3" rx="1.8" ry="1.38"/><ellipse cx="500.0" cy="312.9" rx="1.8" ry="1.38"/><ellipse cx="482.4" cy="312.1" rx="1.8" ry="1.38"/><ellipse cx="492.6" cy="311.3" rx="1.8" ry="1.38"/><ellipse cx="489.8" cy="308.7" rx="1.8" ry="1.38"/><ellipse cx="495.6" cy="308.3" rx="1.8" ry="1.38"/><ellipse cx="486.8" cy="309.3" rx="1.8" ry="1.38"/><ellipse cx="498.4" cy="310.0" rx="1.8" ry="1.38"/><ellipse cx="483.9" cy="310.8" rx="1.8" ry="1.38"/><ellipse cx="492.6" cy="305.3" rx="1.8" ry="1.38"/><ellipse cx="489.8" cy="306.1" rx="1.8" ry="1.38"/><ellipse cx="495.6" cy="306.8" rx="1.8" ry="1.38"/><ellipse cx="486.8" cy="307.5" rx="1.8" ry="1.38"/></g>
<path d="M482.7 314.78H499.7M486.8 320.20H495.6M486.8 309.36H495.6" stroke="#a2a2a2" stroke-width="0.9" fill="none"/>
<g fill="#868686" stroke="#868686" stroke-opacity="0.38" stroke-width="0.9"><ellipse cx="522.2" cy="336.3" rx="1.8" ry="1.38"/><ellipse cx="525.1" cy="335.2" rx="1.8" ry="1.38"/><ellipse cx="519.3" cy="337.1" rx="1.8" ry="1.38"/><ellipse cx="522.2" cy="332.0" rx="1.8" ry="1.38"/><ellipse cx="525.1" cy="333.9" rx="1.8" ry="1.38"/><ellipse cx="519.3" cy="332.8" rx="1.8" ry="1.38"/><ellipse cx="523.7" cy="329.7" rx="1.8" ry="1.38"/><ellipse cx="520.8" cy="330.9" rx="1.8" ry="1.38"/><ellipse cx="523.7" cy="327.4" rx="1.8" ry="1.38"/><ellipse cx="520.8" cy="325.9" rx="1.8" ry="1.38"/><ellipse cx="526.6" cy="327.4" rx="1.8" ry="1.38"/><ellipse cx="517.9" cy="325.3" rx="1.8" ry="1.38"/><ellipse cx="522.2" cy="322.0" rx="1.8" ry="1.38"/><ellipse cx="525.1" cy="323.8" rx="1.8" ry="1.38"/><ellipse cx="519.3" cy="321.6" rx="1.8" ry="1.38"/><ellipse cx="528.0" cy="324.2" rx="1.8" ry="1.38"/><ellipse cx="516.4" cy="322.5" rx="1.8" ry="1.38"/><ellipse cx="522.2" cy="319.1" rx="1.8" ry="1.38"/><ellipse cx="525.1" cy="321.1" rx="1.8" ry="1.38"/><ellipse cx="519.3" cy="320.0" rx="1.8" ry="1.38"/><ellipse cx="528.0" cy="318.2" rx="1.8" ry="1.38"/><ellipse cx="516.4" cy="321.3" rx="1.8" ry="1.38"/><ellipse cx="530.9" cy="320.5" rx="1.8" ry="1.38"/><ellipse cx="513.5" cy="318.9" rx="1.8" ry="1.38"/><ellipse cx="522.2" cy="315.0" rx="1.8" ry="1.38"/><ellipse cx="524.4" cy="318.1" rx="1.8" ry="1.38"/><ellipse cx="520.0" cy="316.1" rx="1.8" ry="1.38"/><ellipse cx="526.6" cy="317.9" rx="1.8" ry="1.38"/><ellipse cx="517.8" cy="316.2" rx="1.8" ry="1.38"/><ellipse cx="528.8" cy="317.8" rx="1.8" ry="1.38"/><ellipse cx="515.6" cy="316.9" rx="1.8" ry="1.38"/><ellipse cx="531.0" cy="316.9" rx="1.8" ry="1.38"/><ellipse cx="513.4" cy="316.1" rx="1.8" ry="1.38"/><ellipse cx="522.2" cy="314.9" rx="1.8" ry="1.38"/><ellipse cx="524.0" cy="314.0" rx="1.8" ry="1.38"/><ellipse cx="520.4" cy="313.6" rx="1.8" ry="1.38"/><ellipse cx="525.7" cy="314.3" rx="1.8" ry="1.38"/><ellipse cx="518.7" cy="314.5" rx="1.8" ry="1.38"/><ellipse cx="527.5" cy="313.4" rx="1.8" ry="1.38"/><ellipse cx="516.9" cy="312.2" rx="1.8" ry="1.38"/><ellipse cx="529.2" cy="311.8" rx="1.8" ry="1.38"/><ellipse cx="515.2" cy="313.3" rx="1.8" ry="1.38"/><ellipse cx="531.0" cy="312.1" rx="1.8" ry="1.38"/><ellipse cx="513.4" cy="313.7" rx="1.8" ry="1.38"/><ellipse cx="522.2" cy="310.0" rx="1.8" ry="1.38"/><ellipse cx="525.1" cy="311.3" rx="1.8" ry="1.38"/><ellipse cx="519.3" cy="310.1" rx="1.8" ry="1.38"/><ellipse cx="528.0" cy="310.2" rx="1.8" ry="1.38"/><ellipse cx="516.4" cy="311.5" rx="1.8" ry="1.38"/><ellipse cx="530.9" cy="309.7" rx="1.8" ry="1.38"/><ellipse cx="513.5" cy="308.5" rx="1.8" ry="1.38"/><ellipse cx="522.2" cy="306.6" rx="1.8" ry="1.38"/><ellipse cx="525.1" cy="308.2" rx="1.8" ry="1.38"/><ellipse cx="519.3" cy="307.9" rx="1.8" ry="1.38"/><ellipse cx="528.0" cy="306.9" rx="1.8" ry="1.38"/><ellipse cx="516.4" cy="305.8" rx="1.8" ry="1.38"/><ellipse cx="523.7" cy="304.6" rx="1.8" ry="1.38"/><ellipse cx="520.8" cy="303.3" rx="1.8" ry="1.38"/><ellipse cx="522.2" cy="301.6" rx="1.8" ry="1.38"/><ellipse cx="525.1" cy="301.3" rx="1.8" ry="1.38"/><ellipse cx="519.3" cy="299.3" rx="1.8" ry="1.38"/><ellipse cx="522.2" cy="295.4" rx="1.8" ry="1.38"/><ellipse cx="525.1" cy="298.2" rx="1.8" ry="1.38"/><ellipse cx="519.3" cy="297.1" rx="1.8" ry="1.38"/><ellipse cx="523.7" cy="293.2" rx="1.8" ry="1.38"/><ellipse cx="520.8" cy="294.6" rx="1.8" ry="1.38"/><ellipse cx="522.2" cy="291.7" rx="1.8" ry="1.38"/><ellipse cx="522.2" cy="280.2" rx="1.8" ry="1.38"/></g>
<path d="M512.7 314.78H531.7M517.3 323.81H527.1M517.3 305.74H527.1" stroke="#adadad" stroke-width="0.9" fill="none"/>
<!-- panel 11 -->
<path d="M53.7 410.8V490.3" stroke="#6e6e6e" stroke-width="0.85" fill="none"/>
<path d="M53.300000000000004 490.3H125.2" stroke="#9c9c9c" stroke-width="1.0" fill="none"/>
<path d="M49.400000000000006 490.30H53.7" stroke="#6e6e6e" stroke-width="0.7"/>
<text transform="translate(47.80,492.75) scale(1.1227536231884057,1)" font-size="6.9" font-weight="bold" text-anchor="end" fill="#111" stroke="#111" stroke-width="0.22">0</text>
<path d="M49.400000000000006 463.80H53.7" stroke="#6e6e6e" stroke-width="0.7"/>
<text transform="translate(47.80,466.25) scale(1.1227536231884057,1)" font-size="6.9" font-weight="bold" text-anchor="end" fill="#111" stroke="#111" stroke-width="0.22">50</text>
<path d="M49.400000000000006 437.30H53.7" stroke="#6e6e6e" stroke-width="0.7"/>
<text transform="translate(47.80,439.75) scale(1.1227536231884057,1)" font-size="6.9" font-weight="bold" text-anchor="end" fill="#111" stroke="#111" stroke-width="0.22">100</text>
<path d="M49.400000000000006 410.80H53.7" stroke="#6e6e6e" stroke-width="0.7"/>
<text transform="translate(47.80,413.25) scale(1.1227536231884057,1)" font-size="6.9" font-weight="bold" text-anchor="end" fill="#111" stroke="#111" stroke-width="0.22">150</text>
<path d="M74.0 490.3V493.0" stroke="#6e6e6e" stroke-width="0.7"/>
<text transform="translate(74.00,499.05) scale(1.1578125,1)" font-size="6.4" font-weight="bold" text-anchor="middle" fill="#111" stroke="#111" stroke-width="0.2">NBD</text>
<path d="M104.4 490.3V493.0" stroke="#6e6e6e" stroke-width="0.7"/>
<text transform="translate(104.40,499.05) scale(1.1578125,1)" font-size="6.4" font-weight="bold" text-anchor="middle" fill="#111" stroke="#111" stroke-width="0.2">KFRT</text>
<text transform="translate(29.10,517.20) rotate(-90)" font-size="6.4" textLength="134.2" lengthAdjust="spacingAndGlyphs" fill="#111" stroke="#111" stroke-width="0.3">Percent of &#160;IRF8 positive nonclassical monocytes</text>
<path d="M74.1 407.3V402.2H105.3V407.3" stroke="#4d4d4d" stroke-width="0.7" fill="none"/>
<text transform="translate(91.10,399.85) scale(1.179,1)" font-size="5.0" font-weight="normal" text-anchor="middle" fill="#3c3c3c" stroke="#3c3c3c" stroke-width="0.08">p=0.0001</text>
<text x="107.35" y="413.15" font-size="6.4" font-weight="bold" letter-spacing="1.51" text-anchor="middle" fill="#1c1c1c" stroke="#1c1c1c" stroke-width="0.25">****</text>
<g fill="#0a0a0a" stroke="#0a0a0a" stroke-opacity="0.38" stroke-width="0.9"><ellipse cx="74.0" cy="488.0" rx="1.8" ry="1.38"/><ellipse cx="76.2" cy="489.2" rx="1.8" ry="1.38"/><ellipse cx="71.8" cy="489.1" rx="1.8" ry="1.38"/><ellipse cx="78.4" cy="488.6" rx="1.8" ry="1.38"/><ellipse cx="69.6" cy="488.9" rx="1.8" ry="1.38"/><ellipse cx="80.6" cy="488.3" rx="1.8" ry="1.38"/><ellipse cx="67.4" cy="488.5" rx="1.8" ry="1.38"/><ellipse cx="82.8" cy="488.8" rx="1.8" ry="1.38"/><ellipse cx="65.2" cy="488.2" rx="1.8" ry="1.38"/><ellipse cx="74.0" cy="484.9" rx="1.8" ry="1.38"/><ellipse cx="76.2" cy="485.1" rx="1.8" ry="1.38"/><ellipse cx="71.8" cy="485.5" rx="1.8" ry="1.38"/><ellipse cx="78.4" cy="485.2" rx="1.8" ry="1.38"/><ellipse cx="69.6" cy="485.9" rx="1.8" ry="1.38"/><ellipse cx="80.6" cy="484.7" rx="1.8" ry="1.38"/><ellipse cx="67.4" cy="485.7" rx="1.8" ry="1.38"/><ellipse cx="82.8" cy="486.1" rx="1.8" ry="1.38"/><ellipse cx="65.2" cy="485.5" rx="1.8" ry="1.38"/><ellipse cx="74.0" cy="482.0" rx="1.8" ry="1.38"/><ellipse cx="76.2" cy="482.2" rx="1.8" ry="1.38"/><ellipse cx="71.8" cy="482.7" rx="1.8" ry="1.38"/><ellipse cx="78.4" cy="481.7" rx="1.8" ry="1.38"/><ellipse cx="69.6" cy="481.9" rx="1.8" ry="1.38"/><ellipse cx="80.6" cy="482.4" rx="1.8" ry="1.38"/><ellipse cx="67.4" cy="482.6" rx="1.8" ry="1.38"/><ellipse cx="82.8" cy="481.4" rx="1.8" ry="1.38"/><ellipse cx="65.2" cy="481.6" rx="1.8" ry="1.38"/><ellipse cx="74.0" cy="478.8" rx="1.8" ry="1.38"/><ellipse cx="76.2" cy="479.1" rx="1.8" ry="1.38"/><ellipse cx="71.8" cy="478.4" rx="1.8" ry="1.38"/><ellipse cx="78.4" cy="478.1" rx="1.8" ry="1.38"/><ellipse cx="69.6" cy="478.9" rx="1.8" ry="1.38"/><ellipse cx="80.6" cy="478.6" rx="1.8" ry="1.38"/><ellipse cx="67.4" cy="479.4" rx="1.8" ry="1.38"/><ellipse cx="82.8" cy="479.2" rx="1.8" ry="1.38"/><ellipse cx="65.2" cy="478.2" rx="1.8" ry="1.38"/><ellipse cx="74.0" cy="474.9" rx="1.8" ry="1.38"/><ellipse cx="76.9" cy="476.0" rx="1.8" ry="1.38"/><ellipse cx="71.1" cy="475.6" rx="1.8" ry="1.38"/><ellipse cx="75.5" cy="472.0" rx="1.8" ry="1.38"/><ellipse cx="72.5" cy="471.4" rx="1.8" ry="1.38"/><ellipse cx="78.3" cy="472.6" rx="1.8" ry="1.38"/><ellipse cx="69.7" cy="472.2" rx="1.8" ry="1.38"/></g>
<path d="M65.5 482.35H82.5M69.6 487.65H78.4M69.6 477.05H78.4" stroke="#a2a2a2" stroke-width="0.9" fill="none"/>
<g fill="#868686" stroke="#868686" stroke-opacity="0.38" stroke-width="0.9"><ellipse cx="104.4" cy="442.2" rx="1.8" ry="1.38"/><ellipse cx="105.7" cy="442.4" rx="1.8" ry="1.38"/><ellipse cx="103.1" cy="442.3" rx="1.8" ry="1.38"/><ellipse cx="106.9" cy="442.3" rx="1.8" ry="1.38"/><ellipse cx="101.9" cy="441.9" rx="1.8" ry="1.38"/><ellipse cx="108.2" cy="442.1" rx="1.8" ry="1.38"/><ellipse cx="100.6" cy="442.0" rx="1.8" ry="1.38"/><ellipse cx="109.4" cy="441.8" rx="1.8" ry="1.38"/><ellipse cx="99.4" cy="442.1" rx="1.8" ry="1.38"/><ellipse cx="110.7" cy="442.8" rx="1.8" ry="1.38"/><ellipse cx="98.1" cy="442.2" rx="1.8" ry="1.38"/><ellipse cx="111.9" cy="441.9" rx="1.8" ry="1.38"/><ellipse cx="96.9" cy="442.5" rx="1.8" ry="1.38"/><ellipse cx="113.2" cy="442.4" rx="1.8" ry="1.38"/><ellipse cx="95.6" cy="441.8" rx="1.8" ry="1.38"/><ellipse cx="104.8" cy="439.1" rx="1.8" ry="1.38"/><ellipse cx="104.0" cy="439.5" rx="1.8" ry="1.38"/><ellipse cx="105.7" cy="439.8" rx="1.8" ry="1.38"/><ellipse cx="103.1" cy="439.3" rx="1.8" ry="1.38"/><ellipse cx="106.5" cy="439.1" rx="1.8" ry="1.38"/><ellipse cx="102.3" cy="438.7" rx="1.8" ry="1.38"/><ellipse cx="107.3" cy="439.9" rx="1.8" ry="1.38"/><ellipse cx="101.5" cy="439.6" rx="1.8" ry="1.38"/><ellipse cx="108.2" cy="439.3" rx="1.8" ry="1.38"/><ellipse cx="100.6" cy="438.8" rx="1.8" ry="1.38"/><ellipse cx="109.0" cy="439.6" rx="1.8" ry="1.38"/><ellipse cx="99.8" cy="439.8" rx="1.8" ry="1.38"/><ellipse cx="109.8" cy="439.0" rx="1.8" ry="1.38"/><ellipse cx="99.0" cy="439.1" rx="1.8" ry="1.38"/><ellipse cx="110.7" cy="438.8" rx="1.8" ry="1.38"/><ellipse cx="98.1" cy="439.7" rx="1.8" ry="1.38"/><ellipse cx="111.5" cy="438.9" rx="1.8" ry="1.38"/><ellipse cx="97.3" cy="438.9" rx="1.8" ry="1.38"/><ellipse cx="112.4" cy="439.2" rx="1.8" ry="1.38"/><ellipse cx="96.4" cy="439.5" rx="1.8" ry="1.38"/><ellipse cx="113.2" cy="439.4" rx="1.8" ry="1.38"/><ellipse cx="95.6" cy="439.5" rx="1.8" ry="1.38"/><ellipse cx="104.4" cy="451.8" rx="1.8" ry="1.38"/><ellipse cx="107.3" cy="453.0" rx="1.8" ry="1.38"/><ellipse cx="101.5" cy="452.2" rx="1.8" ry="1.38"/><ellipse cx="104.4" cy="448.8" rx="1.8" ry="1.38"/><ellipse cx="107.3" cy="449.2" rx="1.8" ry="1.38"/><ellipse cx="101.5" cy="449.6" rx="1.8" ry="1.38"/><ellipse cx="104.4" cy="445.1" rx="1.8" ry="1.38"/><ellipse cx="107.3" cy="446.1" rx="1.8" ry="1.38"/><ellipse cx="101.5" cy="445.9" rx="1.8" ry="1.38"/><ellipse cx="110.2" cy="446.4" rx="1.8" ry="1.38"/><ellipse cx="98.6" cy="445.5" rx="1.8" ry="1.38"/><ellipse cx="104.4" cy="478.5" rx="1.8" ry="1.38"/><ellipse cx="104.4" cy="475.7" rx="1.8" ry="1.38"/><ellipse cx="104.4" cy="472.7" rx="1.8" ry="1.38"/><ellipse cx="105.9" cy="469.4" rx="1.8" ry="1.38"/><ellipse cx="103.0" cy="468.6" rx="1.8" ry="1.38"/><ellipse cx="104.4" cy="465.5" rx="1.8" ry="1.38"/><ellipse cx="104.4" cy="461.6" rx="1.8" ry="1.38"/><ellipse cx="104.4" cy="459.8" rx="1.8" ry="1.38"/><ellipse cx="104.4" cy="456.4" rx="1.8" ry="1.38"/><ellipse cx="105.9" cy="488.3" rx="1.8" ry="1.38"/><ellipse cx="103.0" cy="488.9" rx="1.8" ry="1.38"/></g>
<path d="M99.4 442.07H109.4M99.1 459.82H109.7" stroke="#adadad" stroke-width="0.9" fill="none"/>
<!-- panel 12 -->
<path d="M197.1 409.9V491.0" stroke="#6e6e6e" stroke-width="0.85" fill="none"/>
<path d="M196.7 491.0H270.4" stroke="#9c9c9c" stroke-width="1.0" fill="none"/>
<path d="M192.79999999999998 491.00H197.1" stroke="#6e6e6e" stroke-width="0.7"/>
<text transform="translate(191.20,493.45) scale(1.1227536231884057,1)" font-size="6.9" font-weight="bold" text-anchor="end" fill="#111" stroke="#111" stroke-width="0.22">0</text>
<path d="M192.79999999999998 470.73H197.1" stroke="#6e6e6e" stroke-width="0.7"/>
<text transform="translate(191.20,473.18) scale(1.1227536231884057,1)" font-size="6.9" font-weight="bold" text-anchor="end" fill="#111" stroke="#111" stroke-width="0.22">1000</text>
<path d="M192.79999999999998 450.45H197.1" stroke="#6e6e6e" stroke-width="0.7"/>
<text transform="translate(191.20,452.90) scale(1.1227536231884057,1)" font-size="6.9" font-weight="bold" text-anchor="end" fill="#111" stroke="#111" stroke-width="0.22">2000</text>
<path d="M192.79999999999998 430.17H197.1" stroke="#6e6e6e" stroke-width="0.7"/>
<text transform="translate(191.20,432.62) scale(1.1227536231884057,1)" font-size="6.9" font-weight="bold" text-anchor="end" fill="#111" stroke="#111" stroke-width="0.22">3000</text>
<path d="M192.79999999999998 409.90H197.1" stroke="#6e6e6e" stroke-width="0.7"/>
<text transform="translate(191.20,412.35) scale(1.1227536231884057,1)" font-size="6.9" font-weight="bold" text-anchor="end" fill="#111" stroke="#111" stroke-width="0.22">4000</text>
<path d="M218.1 491.0V493.7" stroke="#6e6e6e" stroke-width="0.7"/>
<text transform="translate(218.10,500.25) scale(1.1578125,1)" font-size="6.4" font-weight="bold" text-anchor="middle" fill="#111" stroke="#111" stroke-width="0.2">NBD</text>
<path d="M249.1 491.0V493.7" stroke="#6e6e6e" stroke-width="0.7"/>
<text transform="translate(249.10,500.25) scale(1.1578125,1)" font-size="6.4" font-weight="bold" text-anchor="middle" fill="#111" stroke="#111" stroke-width="0.2">KFRT</text>
<text transform="translate(169.20,506.90) rotate(-90)" font-size="6.4" textLength="113.2" lengthAdjust="spacingAndGlyphs" fill="#111" stroke="#111" stroke-width="0.3">gMFI of IRF8 in nonclassical monocytes</text>
<path d="M220.5 417.8V414.3H250.0V417.8" stroke="#4d4d4d" stroke-width="0.7" fill="none"/>
<text transform="translate(236.80,411.55) scale(1.179,1)" font-size="5.0" font-weight="normal" text-anchor="middle" fill="#3c3c3c" stroke="#3c3c3c" stroke-width="0.08">p=0.49</text>
<g fill="#0a0a0a" stroke="#0a0a0a" stroke-opacity="0.38" stroke-width="0.9"><ellipse cx="219.5" cy="470.0" rx="1.8" ry="1.38"/><ellipse cx="216.7" cy="468.8" rx="1.8" ry="1.38"/><ellipse cx="222.4" cy="470.5" rx="1.8" ry="1.38"/><ellipse cx="213.8" cy="468.2" rx="1.8" ry="1.38"/><ellipse cx="219.5" cy="465.1" rx="1.8" ry="1.38"/><ellipse cx="216.7" cy="465.9" rx="1.8" ry="1.38"/><ellipse cx="222.4" cy="467.4" rx="1.8" ry="1.38"/><ellipse cx="213.8" cy="466.5" rx="1.8" ry="1.38"/><ellipse cx="218.1" cy="462.4" rx="1.8" ry="1.38"/><ellipse cx="221.0" cy="463.5" rx="1.8" ry="1.38"/><ellipse cx="215.2" cy="462.8" rx="1.8" ry="1.38"/><ellipse cx="223.9" cy="461.8" rx="1.8" ry="1.38"/><ellipse cx="212.3" cy="464.1" rx="1.8" ry="1.38"/><ellipse cx="226.8" cy="463.1" rx="1.8" ry="1.38"/><ellipse cx="209.4" cy="462.1" rx="1.8" ry="1.38"/><ellipse cx="219.1" cy="460.9" rx="1.8" ry="1.38"/><ellipse cx="217.1" cy="458.6" rx="1.8" ry="1.38"/><ellipse cx="221.0" cy="461.3" rx="1.8" ry="1.38"/><ellipse cx="215.2" cy="458.1" rx="1.8" ry="1.38"/><ellipse cx="223.0" cy="460.7" rx="1.8" ry="1.38"/><ellipse cx="213.2" cy="460.0" rx="1.8" ry="1.38"/><ellipse cx="224.9" cy="458.9" rx="1.8" ry="1.38"/><ellipse cx="211.3" cy="459.5" rx="1.8" ry="1.38"/><ellipse cx="226.9" cy="459.3" rx="1.8" ry="1.38"/><ellipse cx="209.3" cy="460.2" rx="1.8" ry="1.38"/><ellipse cx="219.1" cy="456.5" rx="1.8" ry="1.38"/><ellipse cx="217.1" cy="457.8" rx="1.8" ry="1.38"/><ellipse cx="221.0" cy="457.2" rx="1.8" ry="1.38"/><ellipse cx="215.2" cy="456.1" rx="1.8" ry="1.38"/><ellipse cx="223.0" cy="455.1" rx="1.8" ry="1.38"/><ellipse cx="213.2" cy="454.8" rx="1.8" ry="1.38"/><ellipse cx="224.9" cy="457.6" rx="1.8" ry="1.38"/><ellipse cx="211.3" cy="455.6" rx="1.8" ry="1.38"/><ellipse cx="226.9" cy="455.3" rx="1.8" ry="1.38"/><ellipse cx="209.3" cy="456.8" rx="1.8" ry="1.38"/><ellipse cx="219.5" cy="454.2" rx="1.8" ry="1.38"/><ellipse cx="216.7" cy="451.9" rx="1.8" ry="1.38"/><ellipse cx="222.4" cy="451.4" rx="1.8" ry="1.38"/><ellipse cx="213.8" cy="452.5" rx="1.8" ry="1.38"/><ellipse cx="225.3" cy="453.0" rx="1.8" ry="1.38"/><ellipse cx="210.8" cy="453.5" rx="1.8" ry="1.38"/><ellipse cx="219.5" cy="450.2" rx="1.8" ry="1.38"/><ellipse cx="216.7" cy="450.9" rx="1.8" ry="1.38"/></g>
<path d="M209.6 458.56H226.6M213.7 463.83H222.5M213.7 453.29H222.5" stroke="#a2a2a2" stroke-width="0.9" fill="none"/>
<g fill="#868686" stroke="#868686" stroke-opacity="0.38" stroke-width="0.9"><ellipse cx="250.5" cy="480.6" rx="1.8" ry="1.38"/><ellipse cx="247.7" cy="479.0" rx="1.8" ry="1.38"/><ellipse cx="250.5" cy="474.8" rx="1.8" ry="1.38"/><ellipse cx="247.7" cy="475.4" rx="1.8" ry="1.38"/><ellipse cx="253.4" cy="477.8" rx="1.8" ry="1.38"/><ellipse cx="244.8" cy="477.1" rx="1.8" ry="1.38"/><ellipse cx="250.5" cy="471.4" rx="1.8" ry="1.38"/><ellipse cx="247.7" cy="472.3" rx="1.8" ry="1.38"/><ellipse cx="253.4" cy="473.0" rx="1.8" ry="1.38"/><ellipse cx="244.8" cy="472.3" rx="1.8" ry="1.38"/><ellipse cx="256.4" cy="472.3" rx="1.8" ry="1.38"/><ellipse cx="241.8" cy="471.6" rx="1.8" ry="1.38"/><ellipse cx="250.5" cy="469.3" rx="1.8" ry="1.38"/><ellipse cx="247.7" cy="468.3" rx="1.8" ry="1.38"/><ellipse cx="253.4" cy="470.7" rx="1.8" ry="1.38"/><ellipse cx="244.8" cy="468.7" rx="1.8" ry="1.38"/><ellipse cx="250.5" cy="467.3" rx="1.8" ry="1.38"/><ellipse cx="247.7" cy="466.2" rx="1.8" ry="1.38"/><ellipse cx="253.4" cy="466.4" rx="1.8" ry="1.38"/><ellipse cx="244.8" cy="465.2" rx="1.8" ry="1.38"/><ellipse cx="256.4" cy="467.3" rx="1.8" ry="1.38"/><ellipse cx="241.8" cy="465.1" rx="1.8" ry="1.38"/><ellipse cx="249.1" cy="461.5" rx="1.8" ry="1.38"/><ellipse cx="250.9" cy="462.3" rx="1.8" ry="1.38"/><ellipse cx="247.3" cy="463.1" rx="1.8" ry="1.38"/><ellipse cx="252.6" cy="463.8" rx="1.8" ry="1.38"/><ellipse cx="245.6" cy="464.6" rx="1.8" ry="1.38"/><ellipse cx="254.4" cy="462.6" rx="1.8" ry="1.38"/><ellipse cx="243.8" cy="462.6" rx="1.8" ry="1.38"/><ellipse cx="256.1" cy="462.5" rx="1.8" ry="1.38"/><ellipse cx="242.1" cy="463.5" rx="1.8" ry="1.38"/><ellipse cx="257.9" cy="464.2" rx="1.8" ry="1.38"/><ellipse cx="240.3" cy="463.0" rx="1.8" ry="1.38"/><ellipse cx="249.1" cy="461.3" rx="1.8" ry="1.38"/><ellipse cx="250.9" cy="459.6" rx="1.8" ry="1.38"/><ellipse cx="247.3" cy="458.5" rx="1.8" ry="1.38"/><ellipse cx="252.6" cy="459.2" rx="1.8" ry="1.38"/><ellipse cx="245.6" cy="458.1" rx="1.8" ry="1.38"/><ellipse cx="254.4" cy="460.0" rx="1.8" ry="1.38"/><ellipse cx="243.8" cy="458.1" rx="1.8" ry="1.38"/><ellipse cx="256.1" cy="458.6" rx="1.8" ry="1.38"/><ellipse cx="242.1" cy="460.3" rx="1.8" ry="1.38"/><ellipse cx="257.9" cy="459.1" rx="1.8" ry="1.38"/><ellipse cx="240.3" cy="460.5" rx="1.8" ry="1.38"/><ellipse cx="249.1" cy="457.6" rx="1.8" ry="1.38"/><ellipse cx="250.9" cy="456.7" rx="1.8" ry="1.38"/><ellipse cx="247.3" cy="455.4" rx="1.8" ry="1.38"/><ellipse cx="252.6" cy="457.4" rx="1.8" ry="1.38"/><ellipse cx="245.6" cy="457.9" rx="1.8" ry="1.38"/><ellipse cx="254.4" cy="455.9" rx="1.8" ry="1.38"/><ellipse cx="243.8" cy="455.3" rx="1.8" ry="1.38"/><ellipse cx="256.1" cy="455.1" rx="1.8" ry="1.38"/><ellipse cx="242.1" cy="455.2" rx="1.8" ry="1.38"/><ellipse cx="257.9" cy="455.6" rx="1.8" ry="1.38"/><ellipse cx="240.3" cy="457.3" rx="1.8" ry="1.38"/><ellipse cx="250.4" cy="452.4" rx="1.8" ry="1.38"/><ellipse cx="247.8" cy="453.8" rx="1.8" ry="1.38"/><ellipse cx="252.9" cy="453.7" rx="1.8" ry="1.38"/><ellipse cx="245.3" cy="452.8" rx="1.8" ry="1.38"/><ellipse cx="255.4" cy="454.1" rx="1.8" ry="1.38"/><ellipse cx="242.8" cy="452.2" rx="1.8" ry="1.38"/><ellipse cx="257.9" cy="453.3" rx="1.8" ry="1.38"/><ellipse cx="240.3" cy="453.6" rx="1.8" ry="1.38"/><ellipse cx="250.4" cy="448.6" rx="1.8" ry="1.38"/><ellipse cx="247.8" cy="451.3" rx="1.8" ry="1.38"/><ellipse cx="252.9" cy="450.4" rx="1.8" ry="1.38"/><ellipse cx="245.3" cy="450.9" rx="1.8" ry="1.38"/><ellipse cx="255.4" cy="449.8" rx="1.8" ry="1.38"/><ellipse cx="242.8" cy="450.5" rx="1.8" ry="1.38"/><ellipse cx="257.9" cy="449.5" rx="1.8" ry="1.38"/><ellipse cx="240.3" cy="448.2" rx="1.8" ry="1.38"/><ellipse cx="250.5" cy="446.2" rx="1.8" ry="1.38"/><ellipse cx="247.7" cy="446.1" rx="1.8" ry="1.38"/><ellipse cx="253.4" cy="445.0" rx="1.8" ry="1.38"/><ellipse cx="244.8" cy="447.2" rx="1.8" ry="1.38"/><ellipse cx="250.5" cy="444.6" rx="1.8" ry="1.38"/><ellipse cx="247.7" cy="442.2" rx="1.8" ry="1.38"/><ellipse cx="249.1" cy="440.8" rx="1.8" ry="1.38"/><ellipse cx="249.1" cy="437.9" rx="1.8" ry="1.38"/><ellipse cx="249.1" cy="425.5" rx="1.8" ry="1.38"/></g>
<path d="M239.6 457.55H258.6M244.2 466.67H254.0M244.2 448.42H254.0" stroke="#adadad" stroke-width="0.9" fill="none"/>
<text transform="translate(4.7,15.7) scale(1.36,1)" font-size="14.1" font-weight="bold" fill="#111">A</text>
<text transform="translate(4.6,247.6) scale(1.33,1)" font-size="14.1" font-weight="bold" fill="#111">B</text>
</svg>
</body>
</html>
